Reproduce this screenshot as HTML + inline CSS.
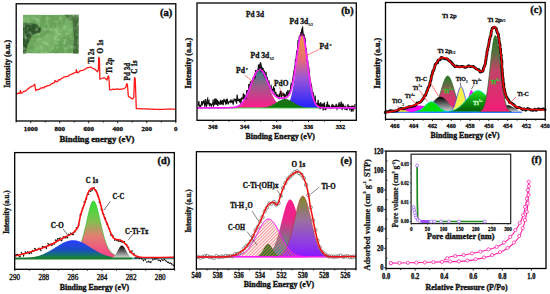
<!DOCTYPE html>
<html><head><meta charset="utf-8"><style>
html,body{margin:0;padding:0;background:#fff;width:550px;height:294px;overflow:hidden}
svg{display:block;font-family:"Liberation Serif",serif}
</style></head><body>
<svg width="550" height="294" viewBox="0 0 550 294">
<defs><filter id="bl1" x="-20%" y="-20%" width="140%" height="140%"><feGaussianBlur stdDeviation="1.2"/></filter><filter id="bl3" x="-20%" y="-20%" width="140%" height="140%"><feGaussianBlur stdDeviation="0.7"/></filter><filter id="bl2" x="-20%" y="-20%" width="140%" height="140%"><feGaussianBlur stdDeviation="2"/></filter><clipPath id="cpa"><rect x="23" y="14.8" width="55.6" height="38.6"/></clipPath><filter id="turb" x="0" y="0" width="100%" height="100%"><feTurbulence type="fractalNoise" baseFrequency="0.22" numOctaves="3" seed="3"/><feColorMatrix type="matrix" values="0 0 0 0 0.55  0 0 0 0 0.85  0 0 0 0 0.5  0 0 0 1.3 -0.62"/></filter><filter id="turb2" x="0" y="0" width="100%" height="100%"><feTurbulence type="fractalNoise" baseFrequency="0.2" numOctaves="3" seed="9"/><feColorMatrix type="matrix" values="0 0 0 0 0.15  0 0 0 0 0.3  0 0 0 0 0.12  0 0 0 1.3 -0.66"/></filter><linearGradient id="gb1" x1="0" y1="0" x2="0" y2="1"><stop offset="0" stop-color="#2f8a86"/><stop offset="0.45" stop-color="#a05a8a"/><stop offset="1" stop-color="#ff1a8c"/></linearGradient><linearGradient id="gb2" x1="0" y1="0" x2="0" y2="1"><stop offset="0" stop-color="#f79a3a"/><stop offset="0.35" stop-color="#e36a7a"/><stop offset="0.6" stop-color="#9a55d8"/><stop offset="1" stop-color="#2222ff"/></linearGradient><linearGradient id="gb3" x1="0" y1="0" x2="0" y2="1"><stop offset="0" stop-color="#1f6f1f"/><stop offset="1" stop-color="#0a7a0a"/></linearGradient><linearGradient id="gc_dg" x1="0" y1="0" x2="0" y2="1"><stop offset="0" stop-color="#2b7a2b"/><stop offset="0.22" stop-color="#5a7040"/><stop offset="0.45" stop-color="#c04468"/><stop offset="1" stop-color="#f41c78"/></linearGradient><linearGradient id="gc_k" x1="0" y1="0" x2="0" y2="1"><stop offset="0" stop-color="#000000"/><stop offset="1" stop-color="#d8d8d8"/></linearGradient><linearGradient id="gc_gc" x1="0" y1="0" x2="0" y2="1"><stop offset="0" stop-color="#00e000"/><stop offset="1" stop-color="#00e8e8"/></linearGradient><linearGradient id="gc_g2" x1="0" y1="0" x2="0" y2="1"><stop offset="0" stop-color="#22f022"/><stop offset="0.45" stop-color="#10a010"/><stop offset="1" stop-color="#005a00"/></linearGradient><linearGradient id="gd_b" x1="0" y1="0" x2="0" y2="1"><stop offset="0" stop-color="#2a3cff"/><stop offset="0.55" stop-color="#1a50c0"/><stop offset="1" stop-color="#128a30"/></linearGradient><linearGradient id="gd_g" x1="0" y1="0" x2="0" y2="1"><stop offset="0" stop-color="#30e030"/><stop offset="0.35" stop-color="#80c050"/><stop offset="0.6" stop-color="#e08070"/><stop offset="1" stop-color="#ff3a8a"/></linearGradient><linearGradient id="gd_k" x1="0" y1="0" x2="0" y2="1"><stop offset="0" stop-color="#000000"/><stop offset="1" stop-color="#e0e0e0"/></linearGradient><linearGradient id="ge_p" x1="0" y1="0" x2="0" y2="1"><stop offset="0" stop-color="#ff1a8c"/><stop offset="0.35" stop-color="#e8288a"/><stop offset="0.7" stop-color="#80708a"/><stop offset="1" stop-color="#1a9a9a"/></linearGradient><linearGradient id="ge_o" x1="0" y1="0" x2="0" y2="1"><stop offset="0" stop-color="#7e8a22"/><stop offset="0.4" stop-color="#9a70a0"/><stop offset="0.75" stop-color="#9040e0"/><stop offset="1" stop-color="#8a18ff"/></linearGradient><pattern id="hatch" patternUnits="userSpaceOnUse" width="2.3" height="2.3" patternTransform="rotate(45)"><rect width="2.3" height="2.3" fill="none"/><line x1="0.6" y1="0" x2="0.6" y2="2.3" stroke="#f07070" stroke-width="0.85"/></pattern></defs>
<rect width="550" height="294" fill="#fff"/>
<g clip-path="url(#cpa)">
<rect x="23" y="14.8" width="55.6" height="38.6" fill="#68a458"/>
<path d="M20,23.5 L28,22.5 L36,24 L41,28 L40.5,32.5 L34,34 L31,37 L27.5,45 L25.5,54 L20,54 Z" fill="#2f552b" filter="url(#bl3)"/>
<path d="M72.5,20 L80,16 L80,54 L73,54 L74,38 Z" fill="#3f6b37" filter="url(#bl3)"/>
<path d="M62,12 L80,12 L80,20 L70,21 Z" fill="#4b7a43" filter="url(#bl3)"/>
<path d="M31,54 L37,41 L68,20 L73,27 L47,54 Z" fill="#86c476" opacity="0.5" filter="url(#bl1)"/>
<path d="M20,12 L38,12 L42,18 L30,22 L20,26 Z" fill="#80bc70" opacity="0.55" filter="url(#bl1)"/>
<rect x="23" y="14.8" width="55.6" height="38.6" filter="url(#turb)"/>
<rect x="23" y="14.8" width="55.6" height="38.6" filter="url(#turb2)"/>
</g>
<path d="M16.4,94.2 L17.53,93.69 L18.67,93.18 L19.8,93.3 L20.4,90.6 L21.1,93 L22.47,92.61 L23.83,91.35 L25.2,91.3 L26.57,90.21 L27.93,88.87 L29.3,87.9 L30.63,86.67 L31.97,86.51 L33.3,85.8 L34.7,84.2 L35.7,90.6 L36.97,89.58 L38.23,89.59 L39.5,89.2 L40.62,88.23 L41.73,87.81 L42.85,87.76 L43.97,87.79 L45.08,86.5 L46.2,86.5 L47.3,85.63 L48.4,85.57 L49.5,85.42 L50.6,84.43 L51.7,83.8 L53.1,83.08 L54.5,82.6 L55.1,80.4 L56.4,81.7 L57.6,81.55 L58.8,79.71 L60,79.96 L61.2,78.8 L62.32,78.09 L63.44,77.45 L64.56,76.96 L65.68,76.73 L66.8,76.5 L68.15,76.2 L69.5,74.77 L70.85,74.57 L72.2,73.8 L73.47,73.5 L74.73,72.71 L76,72.4 L76.3,69.7 L77.4,72.8 L78.54,72.32 L79.68,71.2 L80.82,70.65 L81.96,70.29 L83.1,70.1 L84.3,69.72 L85.5,68.81 L86.7,68.08 L87.9,67.7 L89.25,67.45 L90.6,67 L92.6,68.3 L94.6,69 L96,70.29 L97.4,71.7 L98.4,70 L98.7,57.5 L99.4,58 L99.9,79.2 L102.1,78.5 L103.45,77.96 L104.8,77.9 L105.9,78.95 L107,80 L108.2,76 L108.8,76.5 L109.6,89.5 L110.7,89.8 L111.8,89.64 L112.9,89.04 L114,89.3 L115.33,89.26 L116.67,89.06 L118,88.9 L119.5,89.5 L121,89.2 L122.65,89.03 L124.3,88.3 L125.8,87.5 L126.7,83.6 L127.4,84.5 L128.4,96.5 L129.7,97.1 L131,98.2 L132.8,99 L133.8,97 L134.5,77.6 L135.2,78.5 L136.3,108.6 L137.44,108.64 L138.58,108.68 L139.73,108.72 L140.87,108.77 L142.01,108.81 L143.15,108.85 L144.29,108.89 L145.43,108.93 L146.57,108.97 L147.72,109.02 L148.86,109.06 L150,109.1 L151.11,109.14 L152.22,109.19 L153.33,109.23 L154.44,109.28 L155.56,109.32 L156.67,109.37 L157.78,109.41 L158.89,109.46 L160,109.5 L161.11,109.44 L162.22,109.39 L163.33,109.33 L164.44,109.28 L165.56,109.22 L166.67,109.17 L167.78,109.11 L168.89,109.06 L170,109 L171.16,109.06 L172.32,109.12 L173.48,109.18 L174.64,109.24 L175.8,109.3" stroke="#ff1a1a" stroke-width="1.3" fill="none" stroke-linejoin="round"/>
<rect x="16.2" y="3.8" width="159.6" height="117.2" stroke="#000" stroke-width="1.3" fill="none"/>
<line x1="30.71" y1="121" x2="30.71" y2="123.2" stroke="#111" stroke-width="0.9"/>
<line x1="59.73" y1="121" x2="59.73" y2="123.2" stroke="#111" stroke-width="0.9"/>
<line x1="88.75" y1="121" x2="88.75" y2="123.2" stroke="#111" stroke-width="0.9"/>
<line x1="117.76" y1="121" x2="117.76" y2="123.2" stroke="#111" stroke-width="0.9"/>
<line x1="146.78" y1="121" x2="146.78" y2="123.2" stroke="#111" stroke-width="0.9"/>
<line x1="175.8" y1="121" x2="175.8" y2="123.2" stroke="#111" stroke-width="0.9"/>
<line x1="16.2" y1="121" x2="16.2" y2="122.5" stroke="#111" stroke-width="0.9"/>
<line x1="45.22" y1="121" x2="45.22" y2="122.5" stroke="#111" stroke-width="0.9"/>
<line x1="74.24" y1="121" x2="74.24" y2="122.5" stroke="#111" stroke-width="0.9"/>
<line x1="103.25" y1="121" x2="103.25" y2="122.5" stroke="#111" stroke-width="0.9"/>
<line x1="132.27" y1="121" x2="132.27" y2="122.5" stroke="#111" stroke-width="0.9"/>
<line x1="161.29" y1="121" x2="161.29" y2="122.5" stroke="#111" stroke-width="0.9"/>
<text x="30.71" y="131" font-size="7" font-weight="bold" text-anchor="middle" fill="#111" stroke="#111" stroke-width="0.32" >1000</text>
<text x="59.73" y="131" font-size="7" font-weight="bold" text-anchor="middle" fill="#111" stroke="#111" stroke-width="0.32" >800</text>
<text x="88.75" y="131" font-size="7" font-weight="bold" text-anchor="middle" fill="#111" stroke="#111" stroke-width="0.32" >600</text>
<text x="117.76" y="131" font-size="7" font-weight="bold" text-anchor="middle" fill="#111" stroke="#111" stroke-width="0.32" >400</text>
<text x="146.78" y="131" font-size="7" font-weight="bold" text-anchor="middle" fill="#111" stroke="#111" stroke-width="0.32" >200</text>
<text x="175.8" y="131" font-size="7" font-weight="bold" text-anchor="middle" fill="#111" stroke="#111" stroke-width="0.32" >0</text>
<text x="59.5" y="141.94" font-size="8.71" font-weight="bold" text-anchor="start" fill="#111" stroke="#111" stroke-width="0.4" >Binding energy (eV)</text>
<text transform="translate(10.11,87.8) rotate(-90)" font-size="7.65" font-weight="bold" text-anchor="start" fill="#111" stroke="#111" stroke-width="0.35" >Intensity (a.u.)</text>
<text x="160" y="16.32" font-size="10.55" font-weight="bold" text-anchor="start" fill="#111" stroke="#111" stroke-width="0.48" >(a)</text>
<text transform="translate(93.8,63.6) rotate(-90)" font-size="7.2" font-weight="bold" text-anchor="start" fill="#111" stroke="#111" stroke-width="0.33" >Ti 2s</text>
<text transform="translate(103.27,53.4) rotate(-90)" font-size="7.2" font-weight="bold" text-anchor="start" fill="#111" stroke="#111" stroke-width="0.33" >O 1s</text>
<text transform="translate(111.6,73.8) rotate(-90)" font-size="7.2" font-weight="bold" text-anchor="start" fill="#111" stroke="#111" stroke-width="0.33" >Ti 2p</text>
<text transform="translate(130,80.5) rotate(-90)" font-size="7.2" font-weight="bold" text-anchor="start" fill="#111" stroke="#111" stroke-width="0.33" >Pd 3d</text>
<text transform="translate(137.27,73.8) rotate(-90)" font-size="7.2" font-weight="bold" text-anchor="start" fill="#111" stroke="#111" stroke-width="0.33" >C 1s</text>
<path d="M230,107.8 L230,107.7 L230.5,107.67 L231,107.65 L231.5,107.62 L232,107.58 L232.5,107.53 L233,107.48 L233.5,107.42 L234,107.34 L234.5,107.26 L235,107.16 L235.5,107.04 L236,106.91 L236.5,106.76 L237,106.58 L237.5,106.39 L238,106.16 L238.5,105.91 L239,105.62 L239.5,105.3 L240,104.94 L240.5,104.54 L241,104.1 L241.5,103.61 L242,103.07 L242.5,102.48 L243,101.84 L243.5,101.14 L244,100.39 L244.5,99.58 L245,98.71 L245.5,97.79 L246,96.8 L246.5,95.76 L247,94.67 L247.5,93.53 L248,92.34 L248.5,91.11 L249,89.83 L249.5,88.53 L250,87.21 L250.5,85.86 L251,84.51 L251.5,83.16 L252,81.81 L252.5,80.49 L253,79.2 L253.5,77.94 L254,76.74 L254.5,75.59 L255,74.52 L255.5,73.53 L256,72.62 L256.5,71.82 L257,71.12 L257.5,70.53 L258,70.06 L258.5,69.71 L259,69.49 L259.5,69.4 L260,69.44 L260.5,69.61 L261,69.91 L261.5,70.33 L262,70.87 L262.5,71.52 L263,72.29 L263.5,73.15 L264,74.11 L264.5,75.15 L265,76.27 L265.5,77.45 L266,78.69 L266.5,79.97 L267,81.28 L267.5,82.62 L268,83.97 L268.5,85.32 L269,86.67 L269.5,88 L270,89.32 L270.5,90.6 L271,91.85 L271.5,93.06 L272,94.22 L272.5,95.33 L273,96.39 L273.5,97.4 L274,98.35 L274.5,99.24 L275,100.07 L275.5,100.85 L276,101.57 L276.5,102.23 L277,102.84 L277.5,103.4 L278,103.91 L278.5,104.37 L279,104.78 L279.5,105.16 L280,105.5 L280.5,105.8 L281,106.06 L281.5,106.3 L282,106.51 L282.5,106.69 L283,106.85 L283.5,106.99 L284,107.11 L284.5,107.22 L285,107.31 L285.5,107.39 L286,107.45 L286.5,107.51 L287,107.56 L287.5,107.6 L288,107.64 L288.5,107.66 L289,107.69 L289.5,107.71 L290,107.73 L290,107.8 Z" stroke="none" stroke-width="1" fill="url(#gb1)" />
<path d="M284,107.8 L284,107.38 L284.5,107.24 L285,107.07 L285.5,106.85 L286,106.56 L286.5,106.21 L287,105.77 L287.5,105.23 L288,104.58 L288.5,103.79 L289,102.85 L289.5,101.73 L290,100.42 L290.5,98.9 L291,97.15 L291.5,95.16 L292,92.92 L292.5,90.41 L293,87.65 L293.5,84.64 L294,81.38 L294.5,77.9 L295,74.24 L295.5,70.43 L296,66.51 L296.5,62.55 L297,58.6 L297.5,54.73 L298,51 L298.5,47.51 L299,44.3 L299.5,41.45 L300,39.03 L300.5,37.08 L301,35.66 L301.5,34.79 L302,34.5 L302.5,34.79 L303,35.66 L303.5,37.08 L304,39.03 L304.5,41.45 L305,44.3 L305.5,47.51 L306,51 L306.5,54.73 L307,58.6 L307.5,62.55 L308,66.51 L308.5,70.43 L309,74.24 L309.5,77.9 L310,81.38 L310.5,84.64 L311,87.65 L311.5,90.41 L312,92.92 L312.5,95.16 L313,97.15 L313.5,98.9 L314,100.42 L314.5,101.73 L315,102.85 L315.5,103.79 L316,104.58 L316.5,105.23 L317,105.77 L317.5,106.21 L318,106.56 L318.5,106.85 L319,107.07 L319.5,107.24 L320,107.38 L320.5,107.49 L321,107.57 L321.5,107.63 L322,107.68 L322,107.8 Z" stroke="none" stroke-width="1" fill="url(#gb2)" />
<path d="M256,107.8 L256,107.77 L256.5,107.77 L257,107.76 L257.5,107.75 L258,107.74 L258.5,107.73 L259,107.72 L259.5,107.7 L260,107.68 L260.5,107.66 L261,107.64 L261.5,107.61 L262,107.57 L262.5,107.54 L263,107.49 L263.5,107.44 L264,107.38 L264.5,107.32 L265,107.25 L265.5,107.17 L266,107.08 L266.5,106.98 L267,106.87 L267.5,106.74 L268,106.61 L268.5,106.46 L269,106.3 L269.5,106.13 L270,105.95 L270.5,105.75 L271,105.53 L271.5,105.31 L272,105.07 L272.5,104.82 L273,104.55 L273.5,104.28 L274,103.99 L274.5,103.7 L275,103.4 L275.5,103.09 L276,102.78 L276.5,102.46 L277,102.15 L277.5,101.84 L278,101.53 L278.5,101.23 L279,100.94 L279.5,100.66 L280,100.4 L280.5,100.15 L281,99.92 L281.5,99.72 L282,99.53 L282.5,99.37 L283,99.24 L283.5,99.14 L284,99.06 L284.5,99.02 L285,99 L285.5,99.02 L286,99.06 L286.5,99.14 L287,99.24 L287.5,99.37 L288,99.53 L288.5,99.72 L289,99.92 L289.5,100.15 L290,100.4 L290.5,100.66 L291,100.94 L291.5,101.23 L292,101.53 L292.5,101.84 L293,102.15 L293.5,102.46 L294,102.78 L294.5,103.09 L295,103.4 L295.5,103.7 L296,103.99 L296.5,104.28 L297,104.55 L297.5,104.82 L298,105.07 L298.5,105.31 L299,105.53 L299.5,105.75 L300,105.95 L300.5,106.13 L301,106.3 L301.5,106.46 L302,106.61 L302.5,106.74 L303,106.87 L303.5,106.98 L304,107.08 L304.5,107.17 L305,107.25 L305.5,107.32 L306,107.38 L306.5,107.44 L307,107.49 L307.5,107.54 L308,107.57 L308.5,107.61 L309,107.64 L309.5,107.66 L310,107.68 L310.5,107.7 L311,107.72 L311.5,107.73 L312,107.74 L312.5,107.75 L313,107.76 L313.5,107.77 L314,107.77 L314,107.8 Z" stroke="none" stroke-width="1" fill="url(#gb3)" />
<line x1="198" y1="108" x2="355.3" y2="108" stroke="#20c020" stroke-width="0.8"/>
<path d="M198,105.5 L198.42,104.23 L198.84,101.1 L199.26,106.11 L199.68,105.72 L200.1,106.28 L200.52,107.33 L200.94,104.92 L201.36,104.35 L201.78,101.18 L202.2,105.36 L202.62,102.62 L203.04,102.93 L203.46,101.1 L203.88,101.71 L204.3,102.63 L204.72,106.6 L205.14,99.25 L205.56,100.47 L205.98,104.17 L206.4,106.78 L206.82,104.83 L207.24,99.34 L207.66,98.48 L208.08,104.23 L208.5,101.78 L208.92,100.9 L209.34,105.47 L209.76,105.7 L210.18,103.59 L210.6,103.74 L211.02,104.11 L211.44,106.63 L211.86,104.44 L212.28,104.18 L212.7,104.2 L213.12,99.51 L213.54,105.74 L213.96,104.98 L214.38,104 L214.8,98.45 L215.22,101.36 L215.64,104.57 L216.06,98.69 L216.48,102.23 L216.9,104.84 L217.32,99.67 L217.74,106.06 L218.16,103.69 L218.58,102.11 L219,103.11 L219.42,103.78 L219.84,102.58 L220.26,104.79 L220.68,100.76 L221.1,101.25 L221.52,104.4 L221.94,102.11 L222.36,100.06 L222.78,104.03 L223.2,105.12 L223.62,100.86 L224.04,98.75 L224.46,101.44 L224.88,101.35 L225.3,100.97 L225.72,104.66 L226.14,99.25 L226.56,104.23 L226.98,98.61 L227.4,99.61 L227.82,102.67 L228.24,103.7 L228.66,103.05 L229.08,101.85 L229.5,101.34 L229.92,101.3 L230.34,102.16 L230.76,100.43 L231.18,101.35 L231.6,101.92 L232.02,100.57 L232.44,102.16 L232.86,101.63 L233.28,104.71 L233.7,100.89 L234.12,99.12 L234.54,99.11 L234.96,99.77 L235.38,101.68 L235.8,98.75 L236.22,100.33 L236.64,103.64 L237.06,94.7 L237.48,97.31 L237.9,100.39 L238.32,100.77 L238.74,100.44 L239.16,98.97 L239.58,101.33 L240,100.46 L240.42,98.61 L240.84,104.65 L241.26,100.29 L241.68,98.11 L242.1,98.9 L242.52,98.37 L242.94,98.45 L243.36,93.26 L243.78,96.82 L244.2,99.71 L244.62,94.48 L245.04,96.42 L245.46,98.14 L245.88,97.36 L246.3,97.99 L246.72,90.1 L247.14,92.16 L247.56,91.25 L247.98,92.4 L248.4,92.42 L248.82,83.99 L249.24,90.33 L249.66,83.68 L250.08,87.28 L250.5,81.39 L250.92,83.95 L251.34,85.09 L251.76,81.03 L252.18,80.68 L252.6,80.94 L253.02,78.44 L253.44,76.91 L253.86,79.48 L254.28,77.46 L254.7,73.6 L255.12,78.39 L255.54,70.07 L255.96,73.87 L256.38,70.54 L256.8,70.74 L257.22,71.41 L257.64,69.83 L258.06,70.31 L258.48,65.2 L258.9,64.98 L259.32,69.48 L259.74,65.93 L260.16,65.8 L260.58,64.92 L261,71.13 L261.42,70.25 L261.84,72.21 L262.26,67.33 L262.68,69.91 L263.1,67.97 L263.52,72.81 L263.94,75.33 L264.36,70.63 L264.78,76.83 L265.2,76.42 L265.62,74.74 L266.04,71.72 L266.46,80.1 L266.88,77.76 L267.3,77.62 L267.72,80.8 L268.14,81.8 L268.56,85.17 L268.98,80.58 L269.4,86.27 L269.82,87.95 L270.24,88.76 L270.66,86.02 L271.08,85.6 L271.5,90.26 L271.92,89.01 L272.34,89.72 L272.76,93.23 L273.18,90.12 L273.6,86.25 L274.02,90.91 L274.44,88.14 L274.86,94.44 L275.28,93.71 L275.7,91.99 L276.12,93.61 L276.54,95.77 L276.96,94.37 L277.38,97.34 L277.8,94.48 L278.22,97.06 L278.64,98.19 L279.06,98.56 L279.48,93.63 L279.9,97.11 L280.32,91.1 L280.74,92.88 L281.16,90.97 L281.58,97.65 L282,92.59 L282.42,95.27 L282.84,94.86 L283.26,95.2 L283.68,93.93 L284.1,95.71 L284.52,99.08 L284.94,95.17 L285.36,96.15 L285.78,97.07 L286.2,94.28 L286.62,91.76 L287.04,93.07 L287.46,96.36 L287.88,90.02 L288.3,91.88 L288.72,94.89 L289.14,93.79 L289.56,91.31 L289.98,92.2 L290.4,89.78 L290.82,85.66 L291.24,83.5 L291.66,84.04 L292.08,85.81 L292.5,80.67 L292.92,77.88 L293.34,75.94 L293.76,71.86 L294.18,72.41 L294.6,67.36 L295.02,67.91 L295.44,59.15 L295.86,61.83 L296.28,56.61 L296.7,50.64 L297.12,53.42 L297.54,48.2 L297.96,40.97 L298.38,41.17 L298.8,41.14 L299.22,37.12 L299.64,37.73 L300.06,35.86 L300.48,34.2 L300.9,32.34 L301.32,33.82 L301.74,31.99 L302.16,31.59 L302.58,26.48 L303,33.89 L303.42,36.04 L303.84,34.12 L304.26,35.68 L304.68,43.24 L305.1,37.64 L305.52,45.32 L305.94,52.26 L306.36,48.35 L306.78,55.16 L307.2,61.11 L307.62,60.05 L308.04,64.89 L308.46,68.95 L308.88,68.21 L309.3,73.14 L309.72,76.98 L310.14,81.03 L310.56,81.87 L310.98,84.09 L311.4,84.66 L311.82,88.31 L312.24,93.08 L312.66,93.17 L313.08,92.73 L313.5,94.24 L313.92,102.41 L314.34,101.09 L314.76,101.01 L315.18,95.51 L315.6,102.66 L316.02,103.03 L316.44,106.26 L316.86,103.99 L317.28,103.33 L317.7,104.99 L318.12,99.87 L318.54,106.69 L318.96,105.37 L319.38,103.31 L319.8,107.94 L320.22,109.15 L320.64,102.21 L321.06,103.94 L321.48,106.14 L321.9,105.99 L322.32,104.79 L322.74,103.59 L323.16,110.47 L323.58,108.14 L324,103.29 L324.42,103.01 L324.84,109.77 L325.26,108.25 L325.68,110.13 L326.1,107.95 L326.52,104.3 L326.94,106.84 L327.36,101.56 L327.78,104.71 L328.2,106.27 L328.62,107.6 L329.04,104.89 L329.46,106.27 L329.88,107.6 L330.3,107.43 L330.72,108 L331.14,107.06 L331.56,105.89 L331.98,108.34 L332.4,106.71 L332.82,104.78 L333.24,105.22 L333.66,106.6 L334.08,106.36 L334.5,106.95 L334.92,106.6 L335.34,106.99 L335.76,106.3 L336.18,103.83 L336.6,107.53 L337.02,108.92 L337.44,107.56 L337.86,106.18 L338.28,107.58 L338.7,104.48 L339.12,102.43 L339.54,106.73 L339.96,104.55 L340.38,108.23 L340.8,104.22 L341.22,101.6 L341.64,104.31 L342.06,110.07 L342.48,105.76 L342.9,103.59 L343.32,104.92 L343.74,107.75 L344.16,107.69 L344.58,106.99 L345,109.86 L345.42,108.15 L345.84,106.55 L346.26,107.91 L346.68,110.24 L347.1,108.74 L347.52,108.85 L347.94,104.22 L348.36,106.27 L348.78,108.21 L349.2,105.95 L349.62,108.95 L350.04,107.91 L350.46,108.6 L350.88,106.13 L351.3,111.6 L351.72,109.33 L352.14,106.13 L352.56,106.8 L352.98,111.6 L353.4,105.84 L353.82,108.52 L354.24,108.76 L354.66,106.61 L355.08,104.03" stroke="#111" stroke-width="1.15" fill="none" />
<path d="M197,107.8 L197.5,107.8 L198,107.8 L198.5,107.8 L199,107.8 L199.5,107.8 L200,107.8 L200.5,107.8 L201,107.8 L201.5,107.8 L202,107.8 L202.5,107.8 L203,107.8 L203.5,107.8 L204,107.8 L204.5,107.8 L205,107.8 L205.5,107.8 L206,107.8 L206.5,107.8 L207,107.8 L207.5,107.8 L208,107.8 L208.5,107.8 L209,107.8 L209.5,107.8 L210,107.8 L210.5,107.8 L211,107.8 L211.5,107.8 L212,107.8 L212.5,107.8 L213,107.8 L213.5,107.8 L214,107.8 L214.5,107.8 L215,107.8 L215.5,107.8 L216,107.8 L216.5,107.8 L217,107.8 L217.5,107.8 L218,107.8 L218.5,107.8 L219,107.8 L219.5,107.8 L220,107.8 L220.5,107.8 L221,107.8 L221.5,107.8 L222,107.8 L222.5,107.8 L223,107.8 L223.5,107.79 L224,107.79 L224.5,107.79 L225,107.79 L225.5,107.79 L226,107.78 L226.5,107.78 L227,107.77 L227.5,107.76 L228,107.76 L228.5,107.74 L229,107.73 L229.5,107.72 L230,107.7 L230.5,107.67 L231,107.65 L231.5,107.62 L232,107.58 L232.5,107.53 L233,107.48 L233.5,107.42 L234,107.34 L234.5,107.26 L235,107.16 L235.5,107.04 L236,106.91 L236.5,106.76 L237,106.58 L237.5,106.39 L238,106.16 L238.5,105.91 L239,105.62 L239.5,105.3 L240,104.94 L240.5,104.54 L241,104.1 L241.5,103.61 L242,103.07 L242.5,102.48 L243,101.84 L243.5,101.14 L244,100.39 L244.5,99.58 L245,98.71 L245.5,97.79 L246,96.8 L246.5,95.76 L247,94.67 L247.5,93.53 L248,92.34 L248.5,91.1 L249,89.83 L249.5,88.53 L250,87.2 L250.5,85.86 L251,84.51 L251.5,83.15 L252,81.81 L252.5,80.48 L253,79.19 L253.5,77.93 L254,76.72 L254.5,75.58 L255,74.5 L255.5,73.5 L256,72.6 L256.5,71.78 L257,71.08 L257.5,70.48 L258,70 L258.5,69.64 L259,69.41 L259.5,69.3 L260,69.33 L260.5,69.47 L261,69.74 L261.5,70.13 L262,70.64 L262.5,71.26 L263,71.98 L263.5,72.79 L264,73.69 L264.5,74.67 L265,75.72 L265.5,76.82 L266,77.96 L266.5,79.14 L267,80.35 L267.5,81.56 L268,82.78 L268.5,83.98 L269,85.17 L269.5,86.34 L270,87.46 L270.5,88.55 L271,89.58 L271.5,90.56 L272,91.49 L272.5,92.35 L273,93.15 L273.5,93.88 L274,94.54 L274.5,95.14 L275,95.67 L275.5,96.14 L276,96.54 L276.5,96.89 L277,97.19 L277.5,97.43 L278,97.63 L278.5,97.79 L279,97.91 L279.5,98 L280,98.06 L280.5,98.1 L281,98.12 L281.5,98.12 L282,98.12 L282.5,98.09 L283,98.06 L283.5,98.02 L284,97.96 L284.5,97.88 L285,97.78 L285.5,97.65 L286,97.48 L286.5,97.26 L287,96.97 L287.5,96.61 L288,96.15 L288.5,95.57 L289,94.86 L289.5,93.99 L290,92.94 L290.5,91.7 L291,90.24 L291.5,88.55 L292,86.62 L292.5,84.43 L293,81.98 L293.5,79.28 L294,76.34 L294.5,73.18 L295,69.83 L295.5,66.32 L296,62.7 L296.5,59.02 L297,55.34 L297.5,51.74 L298,48.27 L298.5,45.01 L299,42.03 L299.5,39.4 L300,37.17 L300.5,35.41 L301,34.16 L301.5,33.45 L302,33.31 L302.5,33.73 L303,34.72 L303.5,36.26 L304,38.31 L304.5,40.82 L305,43.75 L305.5,47.02 L306,50.59 L306.5,54.37 L307,58.29 L307.5,62.28 L308,66.29 L308.5,70.24 L309,74.08 L309.5,77.77 L310,81.26 L310.5,84.54 L311,87.57 L311.5,90.35 L312,92.86 L312.5,95.11 L313,97.11 L313.5,98.87 L314,100.39 L314.5,101.71 L315,102.83 L315.5,103.78 L316,104.57 L316.5,105.22 L317,105.76 L317.5,106.2 L318,106.56 L318.5,106.84 L319,107.07 L319.5,107.24 L320,107.38 L320.5,107.49 L321,107.57 L321.5,107.63 L322,107.67 L322.5,107.71 L323,107.73 L323.5,107.75 L324,107.77 L324.5,107.78 L325,107.78 L325.5,107.79 L326,107.79 L326.5,107.79 L327,107.8 L327.5,107.8 L328,107.8 L328.5,107.8 L329,107.8 L329.5,107.8 L330,107.8 L330.5,107.8 L331,107.8 L331.5,107.8 L332,107.8 L332.5,107.8 L333,107.8 L333.5,107.8 L334,107.8 L334.5,107.8 L335,107.8 L335.5,107.8 L336,107.8 L336.5,107.8 L337,107.8 L337.5,107.8 L338,107.8 L338.5,107.8 L339,107.8 L339.5,107.8 L340,107.8 L340.5,107.8 L341,107.8 L341.5,107.8 L342,107.8 L342.5,107.8 L343,107.8 L343.5,107.8 L344,107.8 L344.5,107.8 L345,107.8 L345.5,107.8 L346,107.8 L346.5,107.8 L347,107.8 L347.5,107.8 L348,107.8 L348.5,107.8 L349,107.8 L349.5,107.8 L350,107.8 L350.5,107.8 L351,107.8 L351.5,107.8 L352,107.8 L352.5,107.8 L353,107.8 L353.5,107.8 L354,107.8 L354.5,107.8 L355,107.8 L355.5,107.8 L356,107.8" stroke="#ff22ff" stroke-width="1.7" fill="none" />
<path d="M300.8,36 L302,28.5 L303.3,36" stroke="#111" stroke-width="1.2" fill="none" />
<path d="M258.6,70 L260.5,62.3 L262,70" stroke="#111" stroke-width="1.2" fill="none" />
<rect x="197" y="3" width="159.3" height="117.3" stroke="#000" stroke-width="1.3" fill="none"/>
<line x1="212.93" y1="120.3" x2="212.93" y2="122.1" stroke="#111" stroke-width="0.9"/>
<line x1="244.79" y1="120.3" x2="244.79" y2="122.1" stroke="#111" stroke-width="0.9"/>
<line x1="276.65" y1="120.3" x2="276.65" y2="122.1" stroke="#111" stroke-width="0.9"/>
<line x1="308.51" y1="120.3" x2="308.51" y2="122.1" stroke="#111" stroke-width="0.9"/>
<line x1="340.37" y1="120.3" x2="340.37" y2="122.1" stroke="#111" stroke-width="0.9"/>
<line x1="228.86" y1="120.3" x2="228.86" y2="121.7" stroke="#111" stroke-width="0.9"/>
<line x1="260.72" y1="120.3" x2="260.72" y2="121.7" stroke="#111" stroke-width="0.9"/>
<line x1="292.58" y1="120.3" x2="292.58" y2="121.7" stroke="#111" stroke-width="0.9"/>
<line x1="324.44" y1="120.3" x2="324.44" y2="121.7" stroke="#111" stroke-width="0.9"/>
<text x="212.93" y="129" font-size="6.3" font-weight="bold" text-anchor="middle" fill="#111" stroke="#111" stroke-width="0.29" >348</text>
<text x="244.79" y="129" font-size="6.3" font-weight="bold" text-anchor="middle" fill="#111" stroke="#111" stroke-width="0.29" >344</text>
<text x="276.65" y="129" font-size="6.3" font-weight="bold" text-anchor="middle" fill="#111" stroke="#111" stroke-width="0.29" >340</text>
<text x="308.51" y="129" font-size="6.3" font-weight="bold" text-anchor="middle" fill="#111" stroke="#111" stroke-width="0.29" >336</text>
<text x="340.37" y="129" font-size="6.3" font-weight="bold" text-anchor="middle" fill="#111" stroke="#111" stroke-width="0.29" >332</text>
<text x="245.5" y="138.66" font-size="7.87" font-weight="bold" text-anchor="start" fill="#111" stroke="#111" stroke-width="0.36" >Binding Energy (eV)</text>
<text transform="translate(191.44,88.5) rotate(-90)" font-size="8.13" font-weight="bold" text-anchor="start" fill="#111" stroke="#111" stroke-width="0.37" >Intensity (a.u.)</text>
<text x="341.2" y="14.29" font-size="10.07" font-weight="bold" text-anchor="start" fill="#111" stroke="#111" stroke-width="0.46" >(b)</text>
<text x="246" y="17.35" font-size="7.28" font-weight="bold" text-anchor="start" fill="#111" stroke="#111" stroke-width="0.33" >Pd 3d</text>
<text x="289.5" y="23.97" font-size="7.6" font-weight="bold" text-anchor="start" fill="#111" stroke="#111" stroke-width="0.35" >Pd 3d</text>
<text x="308.6" y="26" font-size="3.3" font-weight="bold" text-anchor="start" fill="#111" stroke="#111" stroke-width="0.15" >5/2</text>
<text x="250.5" y="58.07" font-size="7.6" font-weight="bold" text-anchor="start" fill="#111" stroke="#111" stroke-width="0.35" >Pd 3d</text>
<text x="269.8" y="60" font-size="3.3" font-weight="bold" text-anchor="start" fill="#111" stroke="#111" stroke-width="0.15" >3/2</text>
<text x="236" y="73.47" font-size="7.6" font-weight="bold" text-anchor="start" fill="#111" stroke="#111" stroke-width="0.35" >Pd</text>
<text x="245.8" y="70.3" font-size="4" font-weight="bold" text-anchor="start" fill="#111" stroke="#111" stroke-width="0.18" >o</text>
<text x="319.5" y="49.37" font-size="7.6" font-weight="bold" text-anchor="start" fill="#111" stroke="#111" stroke-width="0.35" >Pd</text>
<text x="329.4" y="46.3" font-size="4" font-weight="bold" text-anchor="start" fill="#111" stroke="#111" stroke-width="0.18" >o</text>
<text x="274.1" y="86.14" font-size="7.4" font-weight="bold" text-anchor="start" fill="#111" stroke="#111" stroke-width="0.34" >PdO</text>
<line x1="244.5" y1="75" x2="254.5" y2="83" stroke="#ff3030" stroke-width="0.6"/>
<line x1="306.4" y1="55.5" x2="319" y2="49.5" stroke="#ff3030" stroke-width="0.6"/>
<line x1="279.5" y1="87.5" x2="283.5" y2="97.5" stroke="#ff3030" stroke-width="0.6"/>
<path d="M383.2,112 L383.2,111.96 L383.7,111.96 L384.2,111.95 L384.7,111.94 L385.2,111.93 L385.7,111.93 L386.2,111.91 L386.7,111.9 L387.2,111.89 L387.7,111.88 L388.2,111.86 L388.7,111.84 L389.2,111.82 L389.7,111.8 L390.2,111.78 L390.7,111.75 L391.2,111.72 L391.7,111.69 L392.2,111.66 L392.7,111.62 L393.2,111.58 L393.7,111.53 L394.2,111.48 L394.7,111.43 L395.2,111.37 L395.7,111.31 L396.2,111.25 L396.7,111.18 L397.2,111.1 L397.7,111.02 L398.2,110.94 L398.7,110.85 L399.2,110.75 L399.7,110.65 L400.2,110.55 L400.7,110.43 L401.2,110.32 L401.7,110.2 L402.2,110.07 L402.7,109.94 L403.2,109.8 L403.7,109.66 L404.2,109.51 L404.7,109.36 L405.2,109.2 L405.7,109.05 L406.2,108.88 L406.7,108.72 L407.2,108.56 L407.7,108.39 L408.2,108.22 L408.7,108.05 L409.2,107.88 L409.7,107.71 L410.2,107.55 L410.7,107.39 L411.2,107.22 L411.7,107.07 L412.2,106.92 L412.7,106.77 L413.2,106.63 L413.7,106.49 L414.2,106.36 L414.7,106.24 L415.2,106.13 L415.7,106.03 L416.2,105.94 L416.7,105.86 L417.2,105.79 L417.7,105.73 L418.2,105.68 L418.7,105.64 L419.2,105.62 L419.7,105.6 L420.2,105.6 L420.7,105.61 L421.2,105.63 L421.7,105.67 L422.2,105.72 L422.7,105.77 L423.2,105.84 L423.7,105.92 L424.2,106.01 L424.7,106.11 L425.2,106.22 L425.7,106.34 L426.2,106.47 L426.7,106.6 L427.2,106.74 L427.7,106.89 L428.2,107.04 L428.7,107.19 L429.2,107.35 L429.7,107.52 L430.2,107.68 L430.7,107.85 L431.2,108.02 L431.7,108.19 L432.2,108.35 L432.7,108.52 L433.2,108.69 L433.7,108.85 L434.2,109.01 L434.7,109.17 L435.2,109.33 L435.7,109.48 L436.2,109.63 L436.7,109.77 L437.2,109.91 L437.7,110.04 L438.2,110.17 L438.7,110.29 L439.2,110.41 L439.7,110.52 L440.2,110.63 L440.7,110.73 L441.2,110.83 L441.7,110.92 L442.2,111.01 L442.7,111.09 L443.2,111.16 L443.7,111.23 L444.2,111.3 L444.7,111.36 L445.2,111.42 L445.7,111.47 L446.2,111.52 L446.7,111.57 L447.2,111.61 L447.7,111.65 L448.2,111.68 L448.7,111.72 L449.2,111.75 L449.7,111.77 L450.2,111.8 L450.7,111.82 L451.2,111.84 L451.7,111.86 L452.2,111.87 L452.7,111.89 L453.2,111.9 L453.7,111.91 L454.2,111.92 L454.7,111.93 L455.2,111.94 L455.7,111.95 L456.2,111.95 L456.7,111.96 L456.8,112 Z" stroke="none" stroke-width="1" fill="#ff00ff" />
<path d="M389.8,112 L389.8,111.98 L390.3,111.97 L390.8,111.95 L391.3,111.92 L391.8,111.89 L392.3,111.84 L392.8,111.78 L393.3,111.69 L393.8,111.58 L394.3,111.44 L394.8,111.27 L395.3,111.07 L395.8,110.84 L396.3,110.58 L396.8,110.3 L397.3,110 L397.8,109.7 L398.3,109.4 L398.8,109.13 L399.3,108.89 L399.8,108.7 L400.3,108.57 L400.8,108.51 L401.3,108.51 L401.8,108.59 L402.3,108.73 L402.8,108.93 L403.3,109.18 L403.8,109.46 L404.3,109.76 L404.8,110.06 L405.3,110.35 L405.8,110.63 L406.3,110.89 L406.8,111.11 L407.3,111.31 L407.8,111.47 L408.3,111.6 L408.8,111.71 L409.3,111.79 L409.8,111.85 L410.3,111.9 L410.8,111.93 L411.3,111.95 L411.8,111.97 L412.2,112 Z" stroke="none" stroke-width="1" fill="#f0e040" />
<path d="M426.9,112 L426.9,111.78 L427.4,111.73 L427.9,111.65 L428.4,111.56 L428.9,111.45 L429.4,111.32 L429.9,111.15 L430.4,110.96 L430.9,110.72 L431.4,110.45 L431.9,110.12 L432.4,109.74 L432.9,109.31 L433.4,108.8 L433.9,108.22 L434.4,107.56 L434.9,106.82 L435.4,105.99 L435.9,105.07 L436.4,104.06 L436.9,102.95 L437.4,101.74 L437.9,100.45 L438.4,99.06 L438.9,97.6 L439.4,96.07 L439.9,94.48 L440.4,92.84 L440.9,91.17 L441.4,89.49 L441.9,87.82 L442.4,86.18 L442.9,84.59 L443.4,83.08 L443.9,81.66 L444.4,80.35 L444.9,79.19 L445.4,78.18 L445.9,77.35 L446.4,76.71 L446.9,76.27 L447.4,76.04 L447.9,76.02 L448.4,76.21 L448.9,76.61 L449.4,77.21 L449.9,78 L450.4,78.98 L450.9,80.11 L451.4,81.38 L451.9,82.78 L452.4,84.28 L452.9,85.86 L453.4,87.49 L453.9,89.16 L454.4,90.84 L454.9,92.51 L455.4,94.15 L455.9,95.76 L456.4,97.3 L456.9,98.78 L457.4,100.18 L457.9,101.49 L458.4,102.71 L458.9,103.84 L459.4,104.88 L459.9,105.82 L460.4,106.66 L460.9,107.42 L461.4,108.09 L461.9,108.69 L462.4,109.21 L462.9,109.66 L463.4,110.05 L463.9,110.39 L464.4,110.67 L464.9,110.91 L465.4,111.12 L465.9,111.29 L466.4,111.43 L466.9,111.54 L467.4,111.64 L467.9,111.71 L468.4,111.77 L468.5,112 Z" stroke="#1a6a1a" stroke-width="0.7" fill="url(#gc_dg)" />
<path d="M414.8,112 L414.8,111.91 L415.3,111.89 L415.8,111.86 L416.3,111.84 L416.8,111.8 L417.3,111.76 L417.8,111.72 L418.3,111.66 L418.8,111.6 L419.3,111.53 L419.8,111.44 L420.3,111.35 L420.8,111.24 L421.3,111.12 L421.8,110.97 L422.3,110.82 L422.8,110.64 L423.3,110.44 L423.8,110.22 L424.3,109.98 L424.8,109.71 L425.3,109.42 L425.8,109.11 L426.3,108.76 L426.8,108.39 L427.3,108 L427.8,107.57 L428.3,107.13 L428.8,106.65 L429.3,106.16 L429.8,105.64 L430.3,105.1 L430.8,104.55 L431.3,103.99 L431.8,103.41 L432.3,102.84 L432.8,102.26 L433.3,101.68 L433.8,101.11 L434.3,100.56 L434.8,100.02 L435.3,99.51 L435.8,99.03 L436.3,98.58 L436.8,98.17 L437.3,97.81 L437.8,97.49 L438.3,97.22 L438.8,97 L439.3,96.84 L439.8,96.74 L440.3,96.7 L440.8,96.72 L441.3,96.8 L441.8,96.93 L442.3,97.13 L442.8,97.37 L443.3,97.67 L443.8,98.02 L444.3,98.41 L444.8,98.85 L445.3,99.32 L445.8,99.82 L446.3,100.34 L446.8,100.89 L447.3,101.45 L447.8,102.03 L448.3,102.6 L448.8,103.18 L449.3,103.76 L449.8,104.33 L450.3,104.89 L450.8,105.43 L451.3,105.95 L451.8,106.46 L452.3,106.94 L452.8,107.4 L453.3,107.83 L453.8,108.24 L454.3,108.62 L454.8,108.97 L455.3,109.3 L455.8,109.6 L456.3,109.88 L456.8,110.13 L457.3,110.36 L457.8,110.56 L458.3,110.75 L458.8,110.91 L459.3,111.06 L459.8,111.19 L460.3,111.31 L460.8,111.41 L461.3,111.5 L461.8,111.57 L462.3,111.64 L462.8,111.7 L463.3,111.75 L463.8,111.79 L464.3,111.82 L464.8,111.85 L465.3,111.88 L465.8,111.9 L466,112 Z" stroke="none" stroke-width="1" fill="url(#gc_k)" />
<path d="M415,112 L415,111.59 L415.5,111.51 L416,111.41 L416.5,111.29 L417,111.15 L417.5,111 L418,110.82 L418.5,110.62 L419,110.39 L419.5,110.14 L420,109.87 L420.5,109.56 L421,109.23 L421.5,108.88 L422,108.49 L422.5,108.09 L423,107.66 L423.5,107.22 L424,106.76 L424.5,106.29 L425,105.81 L425.5,105.34 L426,104.87 L426.5,104.41 L427,103.97 L427.5,103.56 L428,103.18 L428.5,102.83 L429,102.53 L429.5,102.27 L430,102.07 L430.5,101.92 L431,101.83 L431.5,101.8 L432,101.83 L432.5,101.92 L433,102.07 L433.5,102.27 L434,102.53 L434.5,102.83 L435,103.18 L435.5,103.56 L436,103.97 L436.5,104.41 L437,104.87 L437.5,105.34 L438,105.81 L438.5,106.29 L439,106.76 L439.5,107.22 L440,107.66 L440.5,108.09 L441,108.49 L441.5,108.88 L442,109.23 L442.5,109.56 L443,109.87 L443.5,110.14 L444,110.39 L444.5,110.62 L445,110.82 L445.5,111 L446,111.15 L446.5,111.29 L447,111.41 L447.5,111.51 L448,111.59 L448.5,111.67 L449,111.73 L449.5,111.78 L450,111.82 L450.5,111.86 L451,111.89 L451.5,111.91 L452,111.93 L452,112 Z" stroke="#00d8d8" stroke-width="0.8" fill="#00e000" />
<path d="M448.2,112 L448.2,111.85 L448.7,111.78 L449.2,111.68 L449.7,111.53 L450.2,111.34 L450.7,111.08 L451.2,110.75 L451.7,110.31 L452.2,109.76 L452.7,109.07 L453.2,108.24 L453.7,107.23 L454.2,106.06 L454.7,104.71 L455.2,103.19 L455.7,101.52 L456.2,99.73 L456.7,97.86 L457.2,95.95 L457.7,94.07 L458.2,92.28 L458.7,90.64 L459.2,89.23 L459.7,88.1 L460.2,87.3 L460.7,86.87 L461.2,86.83 L461.7,87.18 L462.2,87.91 L462.7,88.98 L463.2,90.34 L463.7,91.93 L464.2,93.7 L464.7,95.57 L465.2,97.48 L465.7,99.36 L466.2,101.18 L466.7,102.87 L467.2,104.42 L467.7,105.8 L468.2,107.01 L468.7,108.05 L469.2,108.92 L469.7,109.63 L470.2,110.21 L470.7,110.67 L471.2,111.02 L471.7,111.3 L472.2,111.5 L472.7,111.65 L473.2,111.76 L473.7,111.84 L473.8,112 Z" stroke="#3030ff" stroke-width="0.7" fill="#f5f050" />
<path d="M461.16,112 L461.16,111.87 L461.66,111.78 L462.16,111.66 L462.66,111.47 L463.16,111.2 L463.66,110.81 L464.16,110.29 L464.66,109.6 L465.16,108.7 L465.66,107.58 L466.16,106.22 L466.66,104.62 L467.16,102.81 L467.66,100.84 L468.16,98.76 L468.66,96.68 L469.16,94.7 L469.66,92.94 L470.16,91.5 L470.66,90.48 L471.16,89.96 L471.66,89.97 L472.16,90.51 L472.66,91.55 L473.16,93 L473.66,94.78 L474.16,96.76 L474.66,98.85 L475.16,100.92 L475.66,102.89 L476.16,104.69 L476.66,106.28 L477.16,107.63 L477.66,108.74 L478.16,109.63 L478.66,110.31 L479.16,110.83 L479.66,111.21 L480.16,111.48 L480.66,111.66 L481.16,111.79 L481.64,112 Z" stroke="none" stroke-width="1" fill="#ff10ff" />
<path d="M442.8,112 L442.8,111.87 L443.3,111.85 L443.8,111.83 L444.3,111.8 L444.8,111.77 L445.3,111.74 L445.8,111.71 L446.3,111.66 L446.8,111.62 L447.3,111.56 L447.8,111.51 L448.3,111.44 L448.8,111.37 L449.3,111.29 L449.8,111.2 L450.3,111.1 L450.8,110.99 L451.3,110.88 L451.8,110.75 L452.3,110.6 L452.8,110.45 L453.3,110.28 L453.8,110.1 L454.3,109.9 L454.8,109.69 L455.3,109.46 L455.8,109.21 L456.3,108.94 L456.8,108.66 L457.3,108.36 L457.8,108.04 L458.3,107.7 L458.8,107.34 L459.3,106.96 L459.8,106.56 L460.3,106.14 L460.8,105.7 L461.3,105.24 L461.8,104.77 L462.3,104.27 L462.8,103.76 L463.3,103.24 L463.8,102.7 L464.3,102.15 L464.8,101.58 L465.3,101.01 L465.8,100.43 L466.3,99.85 L466.8,99.26 L467.3,98.67 L467.8,98.08 L468.3,97.49 L468.8,96.92 L469.3,96.35 L469.8,95.79 L470.3,95.25 L470.8,94.73 L471.3,94.22 L471.8,93.74 L472.3,93.29 L472.8,92.86 L473.3,92.47 L473.8,92.1 L474.3,91.78 L474.8,91.49 L475.3,91.24 L475.8,91.02 L476.3,90.85 L476.8,90.73 L477.3,90.64 L477.8,90.6 L478.3,90.61 L478.8,90.66 L479.3,90.75 L479.8,90.88 L480.3,91.06 L480.8,91.28 L481.3,91.54 L481.8,91.84 L482.3,92.17 L482.8,92.54 L483.3,92.95 L483.8,93.38 L484.3,93.84 L484.8,94.32 L485.3,94.83 L485.8,95.36 L486.3,95.9 L486.8,96.46 L487.3,97.03 L487.8,97.61 L488.3,98.2 L488.8,98.78 L489.3,99.37 L489.8,99.96 L490.3,100.55 L490.8,101.13 L491.3,101.7 L491.8,102.26 L492.3,102.81 L492.8,103.34 L493.3,103.87 L493.8,104.37 L494.3,104.86 L494.8,105.33 L495.3,105.79 L495.8,106.22 L496.3,106.64 L496.8,107.03 L497.3,107.41 L497.8,107.76 L498.3,108.1 L498.8,108.42 L499.3,108.72 L499.8,109 L500.3,109.26 L500.8,109.5 L501.3,109.73 L501.8,109.94 L502.3,110.13 L502.8,110.31 L503.3,110.48 L503.8,110.63 L504.3,110.77 L504.8,110.9 L505.3,111.02 L505.8,111.12 L506.3,111.22 L506.8,111.31 L507.3,111.38 L507.8,111.45 L508.3,111.52 L508.8,111.58 L509.3,111.63 L509.8,111.67 L510.3,111.71 L510.8,111.75 L511.3,111.78 L511.8,111.81 L512.3,111.83 L512.8,111.86 L513.2,112 Z" stroke="#00e0e0" stroke-width="0.8" fill="url(#gc_g2)" />
<path d="M488.8,112 L488.8,111.96 L489.3,111.95 L489.8,111.93 L490.3,111.91 L490.8,111.89 L491.3,111.86 L491.8,111.82 L492.3,111.78 L492.8,111.73 L493.3,111.66 L493.8,111.59 L494.3,111.5 L494.8,111.4 L495.3,111.28 L495.8,111.14 L496.3,110.98 L496.8,110.81 L497.3,110.61 L497.8,110.4 L498.3,110.16 L498.8,109.9 L499.3,109.62 L499.8,109.33 L500.3,109.02 L500.8,108.69 L501.3,108.35 L501.8,108.01 L502.3,107.67 L502.8,107.33 L503.3,107 L503.8,106.68 L504.3,106.38 L504.8,106.1 L505.3,105.85 L505.8,105.64 L506.3,105.47 L506.8,105.33 L507.3,105.25 L507.8,105.2 L508.3,105.21 L508.8,105.26 L509.3,105.36 L509.8,105.5 L510.3,105.68 L510.8,105.9 L511.3,106.15 L511.8,106.44 L512.3,106.74 L512.8,107.06 L513.3,107.4 L513.8,107.74 L514.3,108.08 L514.8,108.42 L515.3,108.76 L515.8,109.08 L516.3,109.39 L516.8,109.68 L517.3,109.95 L517.8,110.21 L518.3,110.44 L518.8,110.65 L519.3,110.85 L519.8,111.02 L520.3,111.17 L520.8,111.3 L521.3,111.42 L521.8,111.52 L522.3,111.6 L522.8,111.68 L523.3,111.74 L523.8,111.79 L524.3,111.83 L524.8,111.87 L525.3,111.89 L525.8,111.92 L526.3,111.94 L526.8,111.95 L527.2,112 Z" stroke="none" stroke-width="1" fill="url(#gc_k)" />
<path d="M479.3,112 L479.3,111.54 L479.8,111.37 L480.3,111.15 L480.8,110.86 L481.3,110.48 L481.8,110 L482.3,109.4 L482.8,108.64 L483.3,107.71 L483.8,106.57 L484.3,105.2 L484.8,103.57 L485.3,101.65 L485.8,99.42 L486.3,96.86 L486.8,93.97 L487.3,90.73 L487.8,87.16 L488.3,83.29 L488.8,79.14 L489.3,74.76 L489.8,70.23 L490.3,65.6 L490.8,60.98 L491.3,56.45 L491.8,52.12 L492.3,48.1 L492.8,44.49 L493.3,41.38 L493.8,38.87 L494.3,37.01 L494.8,35.88 L495.3,35.5 L495.8,35.88 L496.3,37.01 L496.8,38.87 L497.3,41.38 L497.8,44.49 L498.3,48.1 L498.8,52.12 L499.3,56.45 L499.8,60.98 L500.3,65.6 L500.8,70.23 L501.3,74.76 L501.8,79.14 L502.3,83.29 L502.8,87.16 L503.3,90.73 L503.8,93.97 L504.3,96.86 L504.8,99.42 L505.3,101.65 L505.8,103.57 L506.3,105.2 L506.8,106.57 L507.3,107.71 L507.8,108.64 L508.3,109.4 L508.8,110 L509.3,110.48 L509.8,110.86 L510.3,111.15 L510.8,111.37 L511.3,111.54 L511.3,112 Z" stroke="#1a6a1a" stroke-width="0.7" fill="url(#gc_dg)" />
<line x1="385.5" y1="112.3" x2="522" y2="112.3" stroke="#2266ff" stroke-width="1"/>
<path d="M385.32,112.41 L386.8,111.74 L388.45,111.74 L390.03,110.82 L391.78,110.96 L393.55,111.25 L395.49,110.94 L397.31,110.8 L398.95,109.27 L401.15,108.41 L402.83,108.76 L403.99,108.66 L406.06,107.85 L407.52,107.74 L408.72,106.78 L410.5,106.9 L412.35,106.39 L413.88,106.01 L415.61,105.15 L417.09,103.01 L418.78,102.65 L420.16,102.15 L421.84,100.43 L423.23,98.73 L424.49,95.71 L425.48,95.45 L426.1,93.46 L427,91.02 L427.74,89.62 L428.04,87.91 L429.14,86.07 L429.59,85.74 L429.88,82.96 L430.32,81.79 L430.93,79.95 L431.3,77.27 L431.45,75.87 L432.25,74.25 L432.66,72.19 L432.87,71.12 L433.75,70.35 L434.27,68.09 L434.69,66.87 L435.18,64.71 L436.47,63.16 L437.55,62.79 L438.01,60.23 L439.99,59.89 L441.27,57.38 L444.23,58.6 L447.23,58.95 L448.74,60.59 L450.77,61.64 L452.24,63.62 L453.83,65.27 L454.94,66.62 L456.59,66.04 L459.4,66.89 L461.47,66.51 L463.08,66.55 L464.99,67.41 L466.5,67.08 L468.7,65.78 L470.46,66.68 L473.54,66.42 L474.72,67.66 L476.6,69.06 L477.58,69.6 L478.9,69.75 L480.16,72 L482.87,71.18 L483.6,68.03 L484.51,65.94 L484.74,65.52 L485.37,63.46 L485.54,61.84 L486.04,59.39 L486.23,56.69 L486.57,55.71 L486.91,54.36 L486.96,51.59 L487.67,50.03 L487.73,48.72 L487.95,47.73 L488.69,45.17 L488.88,43.46 L489.2,41.84 L489.35,39.64 L489.76,39.2 L490.31,36.18 L490.94,35.79 L491.12,32.65 L491.42,30.96 L491.96,29.36 L492.34,28.07 L494.24,27.2 L496.15,28.34 L496.47,30.14 L496.98,31.41 L497.31,32.9 L498.38,34.23 L498.4,36.92 L498.92,37.96 L498.86,39.8 L499.24,41.94 L499.87,44.44 L500.12,44.74 L499.81,47.69 L500.52,48.97 L500.52,49.83 L500.59,53.21 L501.04,54.8 L501.32,55.41 L500.99,56.96 L501.42,59.62 L501.86,61.4 L501.81,63.2 L501.82,64.54 L501.69,66.67 L501.93,68.64 L502.3,69.26 L502.11,70.89 L502.54,73.41 L502.35,74 L502.71,76.65 L502.82,77.85 L503.13,79.32 L503.13,81.98 L503.71,84.16 L503.85,85.71 L503.64,87.14 L504.54,89.75 L504.6,90.3 L505.18,93.25 L505.59,94.28 L506.2,97.27 L506.76,97.04 L507.65,99.11 L508.68,100.08 L509.58,102.43 L510.87,102.57 L512.62,103.86 L513.99,104.82 L515.47,106.67 L517.34,107.91 L519.3,107.44 L520.81,108.18 L522.75,109.46 L524.11,108.78 L525.83,110.15 L527.51,108.54 L529.19,109.2 L531.42,110.13 L533.05,110.38 L534.9,109.22 L536.17,110.36 L538.24,108.78 L539.92,109.45 L541.47,109.41 L543.07,108.86 L545,109.8" stroke="#111" stroke-width="2.9" fill="none" stroke-linejoin="round" stroke-linecap="round"/>
<path d="M385.5,112.4 C386.83,112.2 390.63,111.85 393.5,111.2 C396.37,110.55 399.87,109.32 402.7,108.5 C405.53,107.68 408.37,106.92 410.5,106.3 C412.63,105.68 414.08,105.37 415.5,104.8 C416.92,104.23 417.95,103.67 419,102.9 C420.05,102.13 420.88,101.25 421.8,100.2 C422.72,99.15 423.65,98 424.5,96.6 C425.35,95.2 426.15,93.47 426.9,91.8 C427.65,90.13 428.13,89.47 429,86.6 C429.87,83.73 431.07,78.13 432.1,74.6 C433.13,71.07 434.17,67.78 435.2,65.4 C436.23,63.02 437.28,61.57 438.3,60.3 C439.32,59.03 440.28,58.22 441.3,57.8 C442.32,57.38 443.38,57.63 444.4,57.8 C445.42,57.97 446.38,58.05 447.4,58.8 C448.42,59.55 449.47,61.28 450.5,62.3 C451.53,63.32 452.58,64.13 453.6,64.9 C454.62,65.67 455.58,66.57 456.6,66.9 C457.62,67.23 458.28,66.92 459.7,66.9 C461.12,66.88 463.35,66.9 465.1,66.8 C466.85,66.7 468.83,66.3 470.2,66.3 C471.57,66.3 472.28,66.37 473.3,66.8 C474.32,67.23 475.12,68.13 476.3,68.9 C477.48,69.67 479.28,71.15 480.4,71.4 C481.52,71.65 482.32,71.22 483,70.4 C483.68,69.58 483.98,68.65 484.5,66.5 C485.02,64.35 485.45,60.98 486.1,57.5 C486.75,54.02 487.63,49.37 488.4,45.6 C489.17,41.83 490.02,37.75 490.7,34.9 C491.38,32.05 491.92,29.9 492.5,28.5 C493.08,27.1 493.62,26.5 494.2,26.5 C494.78,26.5 495.35,27.1 496,28.5 C496.65,29.9 497.45,32.05 498.1,34.9 C498.75,37.75 499.32,41.25 499.9,45.6 C500.48,49.95 501.13,55.85 501.6,61 C502.07,66.15 502.33,72.07 502.7,76.5 C503.07,80.93 503.23,84.27 503.8,87.6 C504.37,90.93 505.17,94.1 506.1,96.5 C507.03,98.9 508.12,100.53 509.4,102 C510.68,103.47 512.15,104.3 513.8,105.3 C515.45,106.3 517.27,107.33 519.3,108 C521.33,108.67 521.72,109 526,109.3 C530.28,109.6 541.83,109.72 545,109.8" stroke="#ee0000" stroke-width="1.6" fill="none" stroke-linecap="round"/>
<rect x="385.5" y="2.5" width="159.7" height="116.8" stroke="#000" stroke-width="1.3" fill="none"/>
<line x1="394.89" y1="119.3" x2="394.89" y2="121.1" stroke="#111" stroke-width="0.9"/>
<line x1="413.68" y1="119.3" x2="413.68" y2="121.1" stroke="#111" stroke-width="0.9"/>
<line x1="432.47" y1="119.3" x2="432.47" y2="121.1" stroke="#111" stroke-width="0.9"/>
<line x1="451.26" y1="119.3" x2="451.26" y2="121.1" stroke="#111" stroke-width="0.9"/>
<line x1="470.05" y1="119.3" x2="470.05" y2="121.1" stroke="#111" stroke-width="0.9"/>
<line x1="488.84" y1="119.3" x2="488.84" y2="121.1" stroke="#111" stroke-width="0.9"/>
<line x1="507.62" y1="119.3" x2="507.62" y2="121.1" stroke="#111" stroke-width="0.9"/>
<line x1="526.41" y1="119.3" x2="526.41" y2="121.1" stroke="#111" stroke-width="0.9"/>
<line x1="545.2" y1="119.3" x2="545.2" y2="121.1" stroke="#111" stroke-width="0.9"/>
<line x1="385.5" y1="119.3" x2="385.5" y2="120.6" stroke="#111" stroke-width="0.9"/>
<line x1="404.29" y1="119.3" x2="404.29" y2="120.6" stroke="#111" stroke-width="0.9"/>
<line x1="423.08" y1="119.3" x2="423.08" y2="120.6" stroke="#111" stroke-width="0.9"/>
<line x1="441.86" y1="119.3" x2="441.86" y2="120.6" stroke="#111" stroke-width="0.9"/>
<line x1="460.65" y1="119.3" x2="460.65" y2="120.6" stroke="#111" stroke-width="0.9"/>
<line x1="479.44" y1="119.3" x2="479.44" y2="120.6" stroke="#111" stroke-width="0.9"/>
<line x1="498.23" y1="119.3" x2="498.23" y2="120.6" stroke="#111" stroke-width="0.9"/>
<line x1="517.02" y1="119.3" x2="517.02" y2="120.6" stroke="#111" stroke-width="0.9"/>
<line x1="535.81" y1="119.3" x2="535.81" y2="120.6" stroke="#111" stroke-width="0.9"/>
<text x="394.89" y="128.3" font-size="6.2" font-weight="bold" text-anchor="middle" fill="#111" stroke="#111" stroke-width="0.28" >466</text>
<text x="413.68" y="128.3" font-size="6.2" font-weight="bold" text-anchor="middle" fill="#111" stroke="#111" stroke-width="0.28" >464</text>
<text x="432.47" y="128.3" font-size="6.2" font-weight="bold" text-anchor="middle" fill="#111" stroke="#111" stroke-width="0.28" >462</text>
<text x="451.26" y="128.3" font-size="6.2" font-weight="bold" text-anchor="middle" fill="#111" stroke="#111" stroke-width="0.28" >460</text>
<text x="470.05" y="128.3" font-size="6.2" font-weight="bold" text-anchor="middle" fill="#111" stroke="#111" stroke-width="0.28" >458</text>
<text x="488.84" y="128.3" font-size="6.2" font-weight="bold" text-anchor="middle" fill="#111" stroke="#111" stroke-width="0.28" >456</text>
<text x="507.62" y="128.3" font-size="6.2" font-weight="bold" text-anchor="middle" fill="#111" stroke="#111" stroke-width="0.28" >454</text>
<text x="526.41" y="128.3" font-size="6.2" font-weight="bold" text-anchor="middle" fill="#111" stroke="#111" stroke-width="0.28" >452</text>
<text x="545.2" y="128.3" font-size="6.2" font-weight="bold" text-anchor="middle" fill="#111" stroke="#111" stroke-width="0.28" >450</text>
<text x="430.6" y="137.83" font-size="7.82" font-weight="bold" text-anchor="start" fill="#111" stroke="#111" stroke-width="0.36" >Binding Energy (eV)</text>
<text transform="translate(379.64,88.5) rotate(-90)" font-size="8.13" font-weight="bold" text-anchor="start" fill="#111" stroke="#111" stroke-width="0.37" >Intensity (a.u.)</text>
<text x="530.3" y="12.92" font-size="10.54" font-weight="bold" text-anchor="start" fill="#111" stroke="#111" stroke-width="0.48" >(c)</text>
<text x="442" y="18.38" font-size="6.6" font-weight="bold" text-anchor="start" fill="#111" stroke="#111" stroke-width="0.3" >Ti 2p</text>
<text x="487.4" y="21.74" font-size="6.4" font-weight="bold" text-anchor="start" fill="#111" stroke="#111" stroke-width="0.29" >Ti 2p</text>
<text x="501.1" y="22.4" font-size="3.4" font-weight="bold" text-anchor="start" fill="#111" stroke="#111" stroke-width="0.16" >3/2</text>
<text x="437.5" y="53.14" font-size="6.4" font-weight="bold" text-anchor="start" fill="#111" stroke="#111" stroke-width="0.29" >Ti 2p</text>
<text x="451.1" y="54.3" font-size="3.4" font-weight="bold" text-anchor="start" fill="#111" stroke="#111" stroke-width="0.16" >1/2</text>
<text x="415.3" y="81.39" font-size="5.9" font-weight="bold" text-anchor="start" fill="#111" stroke="#111" stroke-width="0.27" >Ti-C</text>
<text x="412.7" y="89.89" font-size="5.9" font-weight="bold" text-anchor="start" fill="#111" stroke="#111" stroke-width="0.27" >Ti</text>
<text x="418.6" y="87" font-size="3.4" font-weight="bold" text-anchor="start" fill="#111" stroke="#111" stroke-width="0.16" >3+</text>
<text x="405.1" y="98.39" font-size="5.9" font-weight="bold" text-anchor="start" fill="#111" stroke="#111" stroke-width="0.27" >Ti</text>
<text x="411.2" y="95.5" font-size="3.4" font-weight="bold" text-anchor="start" fill="#111" stroke="#111" stroke-width="0.16" >4+</text>
<text x="392" y="103.49" font-size="5.9" font-weight="bold" text-anchor="start" fill="#111" stroke="#111" stroke-width="0.27" >TiO</text>
<text x="402.2" y="105.5" font-size="3.4" font-weight="bold" text-anchor="start" fill="#111" stroke="#111" stroke-width="0.16" >2</text>
<text x="455.8" y="80.89" font-size="5.9" font-weight="bold" text-anchor="start" fill="#111" stroke="#111" stroke-width="0.27" >TiO</text>
<text x="466" y="82.8" font-size="3.4" font-weight="bold" text-anchor="start" fill="#111" stroke="#111" stroke-width="0.16" >2</text>
<text x="472.1" y="83.99" font-size="5.9" font-weight="bold" text-anchor="start" fill="#111" stroke="#111" stroke-width="0.27" >Ti</text>
<text x="478" y="81.3" font-size="3.4" font-weight="bold" text-anchor="start" fill="#111" stroke="#111" stroke-width="0.16" >4+</text>
<text x="517.2" y="96.19" font-size="5.9" font-weight="bold" text-anchor="start" fill="#111" stroke="#111" stroke-width="0.27" >Ti-C</text>
<text x="443.5" y="93.19" font-size="5.9" font-weight="bold" text-anchor="start" fill="#22cc22" stroke="#22cc22" stroke-width="0.27" >Ti</text>
<text x="449.2" y="89.8" font-size="3.4" font-weight="bold" text-anchor="start" fill="#22cc22" stroke="#22cc22" stroke-width="0.16" >3+</text>
<text x="490.5" y="83.99" font-size="5.9" font-weight="bold" text-anchor="start" fill="#22cc22" stroke="#22cc22" stroke-width="0.27" >Ti</text>
<text x="496.2" y="80.6" font-size="3.4" font-weight="bold" text-anchor="start" fill="#22cc22" stroke="#22cc22" stroke-width="0.16" >3+</text>
<text x="473.1" y="105.39" font-size="5.9" font-weight="bold" text-anchor="start" fill="#d0ffd0" stroke="#d0ffd0" stroke-width="0.27" >Ti</text>
<text x="478.8" y="102" font-size="3.4" font-weight="bold" text-anchor="start" fill="#d0ffd0" stroke="#d0ffd0" stroke-width="0.16" >3+</text>
<line x1="430.9" y1="83.5" x2="438.6" y2="96.4" stroke="#ff2020" stroke-width="0.6"/>
<line x1="419.5" y1="90.4" x2="427.5" y2="101.5" stroke="#ff2020" stroke-width="0.6"/>
<line x1="411" y1="98.9" x2="419" y2="106.6" stroke="#ff2020" stroke-width="0.6"/>
<line x1="397" y1="105.7" x2="401" y2="110" stroke="#ff2020" stroke-width="0.6"/>
<line x1="516" y1="97" x2="509.4" y2="103.5" stroke="#ff2020" stroke-width="0.6"/>
<line x1="460.4" y1="82.5" x2="460.8" y2="86.5" stroke="#111" stroke-width="0.6"/>
<line x1="474" y1="85" x2="471.5" y2="89" stroke="#111" stroke-width="0.6"/>
<path d="M68,258.5 L68,256.3 L68.5,256.2 L69,256.08 L69.5,255.96 L70,255.83 L70.5,255.68 L71,255.51 L71.5,255.32 L72,255.11 L72.5,254.88 L73,254.62 L73.5,254.32 L74,253.99 L74.5,253.62 L75,253.2 L75.5,252.74 L76,252.22 L76.5,251.64 L77,251 L77.5,250.29 L78,249.5 L78.5,248.63 L79,247.68 L79.5,246.64 L80,245.5 L80.5,244.27 L81,242.95 L81.5,241.52 L82,239.99 L82.5,238.36 L83,236.64 L83.5,234.82 L84,232.91 L84.5,230.92 L85,228.87 L85.5,226.75 L86,224.58 L86.5,222.38 L87,220.16 L87.5,217.94 L88,215.75 L88.5,213.61 L89,211.55 L89.5,209.58 L90,207.75 L90.5,206.08 L91,204.6 L91.5,203.35 L92,202.34 L92.5,201.6 L93,201.15 L93.5,201 L94,201.15 L94.5,201.6 L95,202.34 L95.5,203.35 L96,204.6 L96.5,206.08 L97,207.75 L97.5,209.58 L98,211.55 L98.5,213.61 L99,215.75 L99.5,217.94 L100,220.16 L100.5,222.38 L101,224.58 L101.5,226.75 L102,228.87 L102.5,230.92 L103,232.91 L103.5,234.82 L104,236.64 L104.5,238.36 L105,239.99 L105.5,241.52 L106,242.95 L106.5,244.27 L107,245.5 L107.5,246.64 L108,247.68 L108.5,248.63 L109,249.5 L109.5,250.29 L110,251 L110.5,251.64 L111,252.22 L111.5,252.74 L112,253.2 L112.5,253.62 L113,253.99 L113.5,254.32 L114,254.62 L114.5,254.88 L115,255.11 L115.5,255.32 L116,255.51 L116.5,255.68 L117,255.83 L117.5,255.96 L118,256.08 L118.5,256.2 L119,256.3 L119.5,256.39 L120,256.48 L120,258.5 Z" stroke="#22bb22" stroke-width="0.6" fill="url(#gd_g)" />
<path d="M14.7,258.5 L14.7,258.43 L15.2,258.42 L15.7,258.41 L16.2,258.41 L16.7,258.4 L17.2,258.39 L17.7,258.38 L18.2,258.36 L18.7,258.35 L19.2,258.34 L19.7,258.32 L20.2,258.31 L20.7,258.29 L21.2,258.27 L21.7,258.25 L22.2,258.23 L22.7,258.21 L23.2,258.18 L23.7,258.15 L24.2,258.13 L24.7,258.09 L25.2,258.06 L25.7,258.03 L26.2,257.99 L26.7,257.95 L27.2,257.9 L27.7,257.86 L28.2,257.81 L28.7,257.76 L29.2,257.7 L29.7,257.64 L30.2,257.58 L30.7,257.51 L31.2,257.44 L31.7,257.37 L32.2,257.29 L32.7,257.21 L33.2,257.12 L33.7,257.03 L34.2,256.93 L34.7,256.83 L35.2,256.72 L35.7,256.61 L36.2,256.49 L36.7,256.37 L37.2,256.24 L37.7,256.11 L38.2,255.97 L38.7,255.82 L39.2,255.67 L39.7,255.51 L40.2,255.34 L40.7,255.17 L41.2,254.99 L41.7,254.8 L42.2,254.61 L42.7,254.41 L43.2,254.21 L43.7,253.99 L44.2,253.78 L44.7,253.55 L45.2,253.32 L45.7,253.08 L46.2,252.84 L46.7,252.58 L47.2,252.33 L47.7,252.06 L48.2,251.8 L48.7,251.52 L49.2,251.24 L49.7,250.96 L50.2,250.67 L50.7,250.37 L51.2,250.08 L51.7,249.78 L52.2,249.47 L52.7,249.16 L53.2,248.85 L53.7,248.54 L54.2,248.22 L54.7,247.91 L55.2,247.59 L55.7,247.27 L56.2,246.96 L56.7,246.64 L57.2,246.33 L57.7,246.01 L58.2,245.7 L58.7,245.39 L59.2,245.09 L59.7,244.79 L60.2,244.5 L60.7,244.21 L61.2,243.92 L61.7,243.64 L62.2,243.37 L62.7,243.11 L63.2,242.86 L63.7,242.61 L64.2,242.37 L64.7,242.15 L65.2,241.93 L65.7,241.72 L66.2,241.53 L66.7,241.35 L67.2,241.18 L67.7,241.02 L68.2,240.88 L68.7,240.74 L69.2,240.63 L69.7,240.52 L70.2,240.43 L70.7,240.36 L71.2,240.3 L71.7,240.25 L72.2,240.22 L72.7,240.2 L73.2,240.2 L73.7,240.21 L74.2,240.24 L74.7,240.29 L75.2,240.34 L75.7,240.42 L76.2,240.5 L76.7,240.6 L77.2,240.72 L77.7,240.85 L78.2,240.99 L78.7,241.15 L79.2,241.31 L79.7,241.49 L80.2,241.69 L80.7,241.89 L81.2,242.1 L81.7,242.33 L82.2,242.56 L82.7,242.81 L83.2,243.06 L83.7,243.32 L84.2,243.59 L84.7,243.87 L85.2,244.15 L85.7,244.44 L86.2,244.73 L86.7,245.03 L87.2,245.33 L87.7,245.64 L88.2,245.95 L88.7,246.26 L89.2,246.58 L89.7,246.89 L90.2,247.21 L90.7,247.53 L91.2,247.84 L91.7,248.16 L92.2,248.48 L92.7,248.79 L93.2,249.1 L93.7,249.41 L94.2,249.71 L94.7,250.02 L95.2,250.32 L95.7,250.61 L96.2,250.9 L96.7,251.19 L97.2,251.47 L97.7,251.74 L98.2,252.01 L98.7,252.28 L99.2,252.53 L99.7,252.79 L100.2,253.03 L100.7,253.27 L101.2,253.5 L101.7,253.73 L102.2,253.95 L102.7,254.16 L103.2,254.37 L103.7,254.57 L104.2,254.77 L104.7,254.95 L105.2,255.13 L105.7,255.31 L106.2,255.47 L106.7,255.63 L107.2,255.79 L107.7,255.94 L108.2,256.08 L108.7,256.22 L109.2,256.35 L109.7,256.47 L110.2,256.59 L110.7,256.7 L111.2,256.81 L111.7,256.91 L112.2,257.01 L112.7,257.1 L113.2,257.19 L113.7,257.28 L114.2,257.35 L114.7,257.43 L115.2,257.5 L115.7,257.57 L116.2,257.63 L116.7,257.69 L117.2,257.75 L117.7,257.8 L118.2,257.85 L118.7,257.9 L119.2,257.94 L119.7,257.98 L120,258.5 Z" stroke="none" stroke-width="1" fill="url(#gd_b)" />
<path d="M110,258.5 L110,258.27 L110.5,258.17 L111,258.05 L111.5,257.89 L112,257.69 L112.5,257.44 L113,257.12 L113.5,256.74 L114,256.28 L114.5,255.75 L115,255.13 L115.5,254.43 L116,253.65 L116.5,252.81 L117,251.92 L117.5,250.99 L118,250.05 L118.5,249.13 L119,248.26 L119.5,247.46 L120,246.76 L120.5,246.2 L121,245.8 L121.5,245.56 L122,245.5 L122.5,245.63 L123,245.94 L123.5,246.41 L124,247.03 L124.5,247.77 L125,248.6 L125.5,249.5 L126,250.43 L126.5,251.36 L127,252.28 L127.5,253.16 L128,253.97 L128.5,254.72 L129,255.39 L129.5,255.97 L130,256.48 L130.5,256.9 L131,257.26 L131.5,257.55 L132,257.78 L132.5,257.96 L133,258.1 L133.5,258.21 L134,258.3 L134.5,258.36 L135,258.4 L135,258.5 Z" stroke="none" stroke-width="1" fill="url(#gd_k)" />
<line x1="14.7" y1="258.5" x2="132" y2="258.5" stroke="#1a7a2a" stroke-width="1.8"/>
<line x1="132" y1="258.5" x2="174.3" y2="258.5" stroke="#3a8a8a" stroke-width="1.5"/>
<path d="M16.54,253.94 L15.46,255.85 M16.88,254.28 L18.92,255.1 M20.77,255.87 L18.83,256.93 M21.04,252.07 L22.36,253.82 M23.83,254.44 L23.37,256.59 M25.07,251.28 L25.93,253.31 M28.15,251.46 L26.65,253.07 M28.41,252.72 L30.19,254.01 M30.42,252.03 L31.98,253.57 M32.31,250.06 L33.89,251.59 M34.03,248.37 L35.97,249.39 M37.93,249.38 L35.87,250.16 M39.07,247.71 L38.53,249.84 M40.13,249.17 L41.27,251.05 M42.25,245.82 L42.95,247.9 M45.6,246.82 L43.4,246.87 M46.43,246.83 L46.37,249.03 M47.48,243.23 L49.12,244.69 M51.11,243.86 L49.29,245.1 M52.61,244.09 L51.59,246.04 M55.1,243.84 L52.9,243.9 M54.86,239.88 L56.94,240.57 M57.71,238.07 L57.89,240.27 M60.63,237.64 L58.77,238.83 M62.56,239.79 L60.64,240.85 M64.56,236.64 L62.44,237.23 M64.31,237.57 L66.49,237.84 M66.64,236.45 L67.96,238.2 M68.18,234.02 L70.22,234.83 M70.19,232.68 L72.01,233.91 M74.1,234.4 L71.9,234.58 M75.18,230.4 L74.62,232.53 M77.87,227.48 L75.73,227.96 M78.27,223.84 L79.13,225.86 M81.6,214.26 L79.6,215.16 M82.32,207.53 L82.68,209.71 M83.65,201.41 L85.15,203.02 M87.14,198.41 L85.46,199.82 M89.28,194.08 L87.12,194.46 M89.06,190.73 L91.14,191.45 M92.33,188.99 L91.67,191.09 M94.3,186.85 L93.5,188.9 M94.95,189.7 L96.65,191.09 M97.26,194.33 L98.14,196.35 M98.61,202.03 L100.59,202.97 M100.62,208.87 L102.38,210.18 M102.63,213.25 L104.17,214.83 M105.64,217.53 L104.96,219.62 M107.7,222.82 L106.7,224.78 M108.22,228.04 L109.98,229.35 M109.9,234.87 L112.1,234.95 M112.33,234.81 L113.47,236.69 M115.38,238.75 L114.22,240.62 M115.78,239.72 L117.62,240.93 M117.99,240.1 L119.21,241.93 M119.62,240.62 L121.38,241.93 M123.28,241.22 L121.52,242.54 M124.47,241.13 L124.13,243.31 M125.12,244.12 L127.28,244.55 M127.06,246.9 L129.14,247.59 M129.64,251.03 L130.36,253.11 M132.07,250.25 L131.73,252.42 M134.27,253.02 L133.33,255.01 M134.64,257.62 L136.76,258.24 M136.64,256.84 L138.56,257.93 M140.13,257.1 L138.87,258.9 M141.09,257.3 L141.71,259.41 M142.61,259.43 L143.99,261.14 M144.57,258.62 L145.83,260.43 M148.19,261.78 L146.01,262.1 M148.39,260.74 L149.61,262.56 M151.13,260.97 L150.67,263.12 M152.32,258.44 L153.28,260.42 M154.41,257.7 L154.99,259.83 M157.6,258.34 L155.6,259.25 M159.6,260.21 L157.4,260.24 M159.94,259.97 L160.86,261.97 M161.4,259.37 L163.2,260.65 M164.92,258.82 L163.48,260.48 M165.22,260.3 L166.98,261.61 M166.9,262.31 L169.1,262.36 M170.95,262.84 L168.85,263.51 M171.54,263.02 L172.06,265.16 M174.63,264.51 L172.77,265.69 " stroke="#111" stroke-width="1.2" fill="none" />
<path d="M14.7,256 C16.42,255.58 21.62,254.42 25,253.5 C28.38,252.58 31.73,251.53 35,250.5 C38.27,249.47 41.77,248.38 44.6,247.3 C47.43,246.22 49.45,245.27 52,244 C54.55,242.73 57.57,240.95 59.9,239.7 C62.23,238.45 63.95,237.52 66,236.5 C68.05,235.48 70.53,234.68 72.2,233.6 C73.87,232.52 74.98,231.28 76,230 C77.02,228.72 77.48,228.57 78.3,225.9 C79.12,223.23 79.88,217.65 80.9,214 C81.92,210.35 83.22,207.5 84.4,204 C85.58,200.5 86.68,195.65 88,193 C89.32,190.35 90.88,188.27 92.3,188.1 C93.72,187.93 95.22,189.68 96.5,192 C97.78,194.32 98.97,198.57 100,202 C101.03,205.43 101.78,209.6 102.7,212.6 C103.62,215.6 104.6,217.73 105.5,220 C106.4,222.27 107.22,224.03 108.1,226.2 C108.98,228.37 109.9,231.03 110.8,233 C111.7,234.97 112.47,236.9 113.5,238 C114.53,239.1 115.88,239.25 117,239.6 C118.12,239.95 119.03,239.62 120.2,240.1 C121.37,240.58 122.85,241.52 124,242.5 C125.15,243.48 126.07,244.52 127.1,246 C128.13,247.48 128.88,249.82 130.2,251.4 C131.52,252.98 133.32,254.53 135,255.5 C136.68,256.47 137.8,256.87 140.3,257.2 C142.8,257.53 144.33,257.48 150,257.5 C155.67,257.52 170.25,257.33 174.3,257.3" stroke="#ff1010" stroke-width="1.6" fill="none" />
<rect x="14.7" y="152.6" width="159.6" height="116.7" stroke="#000" stroke-width="1.3" fill="none"/>
<line x1="14.7" y1="269.3" x2="14.7" y2="271.1" stroke="#111" stroke-width="0.9"/>
<line x1="43.8" y1="269.3" x2="43.8" y2="271.1" stroke="#111" stroke-width="0.9"/>
<line x1="72.9" y1="269.3" x2="72.9" y2="271.1" stroke="#111" stroke-width="0.9"/>
<line x1="102" y1="269.3" x2="102" y2="271.1" stroke="#111" stroke-width="0.9"/>
<line x1="131.1" y1="269.3" x2="131.1" y2="271.1" stroke="#111" stroke-width="0.9"/>
<line x1="160.2" y1="269.3" x2="160.2" y2="271.1" stroke="#111" stroke-width="0.9"/>
<line x1="29.25" y1="269.3" x2="29.25" y2="270.7" stroke="#111" stroke-width="0.9"/>
<line x1="58.35" y1="269.3" x2="58.35" y2="270.7" stroke="#111" stroke-width="0.9"/>
<line x1="87.45" y1="269.3" x2="87.45" y2="270.7" stroke="#111" stroke-width="0.9"/>
<line x1="116.55" y1="269.3" x2="116.55" y2="270.7" stroke="#111" stroke-width="0.9"/>
<line x1="145.65" y1="269.3" x2="145.65" y2="270.7" stroke="#111" stroke-width="0.9"/>
<line x1="174.75" y1="269.3" x2="174.75" y2="270.7" stroke="#111" stroke-width="0.9"/>
<text transform="translate(14.7,279.8) scale(0.92,1)" font-size="7.8" font-weight="normal" text-anchor="middle" fill="#111" stroke="#111" stroke-width="0.36" >290</text>
<text transform="translate(43.8,279.8) scale(0.92,1)" font-size="7.8" font-weight="normal" text-anchor="middle" fill="#111" stroke="#111" stroke-width="0.36" >288</text>
<text transform="translate(72.9,279.8) scale(0.92,1)" font-size="7.8" font-weight="normal" text-anchor="middle" fill="#111" stroke="#111" stroke-width="0.36" >286</text>
<text transform="translate(102,279.8) scale(0.92,1)" font-size="7.8" font-weight="normal" text-anchor="middle" fill="#111" stroke="#111" stroke-width="0.36" >284</text>
<text transform="translate(131.1,279.8) scale(0.92,1)" font-size="7.8" font-weight="normal" text-anchor="middle" fill="#111" stroke="#111" stroke-width="0.36" >282</text>
<text transform="translate(160.2,279.8) scale(0.92,1)" font-size="7.8" font-weight="normal" text-anchor="middle" fill="#111" stroke="#111" stroke-width="0.36" >280</text>
<text x="59.8" y="290.16" font-size="7.87" font-weight="bold" text-anchor="start" fill="#111" stroke="#111" stroke-width="0.36" >Binding Energy (eV)</text>
<text transform="translate(9.3,233.8) rotate(-90) scale(0.9,1)" font-size="7.7" font-weight="bold" fill="#111" stroke="#111" stroke-width="0.3">Intensity (a.u.)</text>
<text x="157.5" y="164.46" font-size="10.31" font-weight="bold" text-anchor="start" fill="#111" stroke="#111" stroke-width="0.47" >(d)</text>
<text transform="translate(85.7,182.79) scale(0.85,1)" font-size="7.84" font-weight="bold" text-anchor="start" fill="#111" stroke="#111" stroke-width="0.36" >C 1s</text>
<text transform="translate(112.6,199.43) scale(0.85,1)" font-size="7.75" font-weight="bold" text-anchor="start" fill="#111" stroke="#111" stroke-width="0.35" >C-C</text>
<text transform="translate(50.7,227.92) scale(0.85,1)" font-size="8.34" font-weight="bold" text-anchor="start" fill="#111" stroke="#111" stroke-width="0.38" >C-O</text>
<text transform="translate(124.9,234.11) scale(0.85,1)" font-size="7.94" font-weight="bold" text-anchor="start" fill="#111" stroke="#111" stroke-width="0.36" >C-Ti-Tx</text>
<line x1="63" y1="228.8" x2="68" y2="235.4" stroke="#111" stroke-width="0.6"/>
<line x1="110.2" y1="201.5" x2="103.8" y2="210.4" stroke="#111" stroke-width="0.6"/>
<line x1="132.6" y1="234.4" x2="128.5" y2="239.8" stroke="#111" stroke-width="0.6"/>
<path d="M262,256.8 L262,256.5 L262.5,256.44 L263,256.37 L263.5,256.28 L264,256.19 L264.5,256.07 L265,255.94 L265.5,255.78 L266,255.6 L266.5,255.4 L267,255.16 L267.5,254.9 L268,254.59 L268.5,254.25 L269,253.86 L269.5,253.42 L270,252.93 L270.5,252.39 L271,251.78 L271.5,251.11 L272,250.38 L272.5,249.57 L273,248.68 L273.5,247.72 L274,246.68 L274.5,245.55 L275,244.35 L275.5,243.05 L276,241.68 L276.5,240.22 L277,238.68 L277.5,237.06 L278,235.36 L278.5,233.6 L279,231.78 L279.5,229.9 L280,227.98 L280.5,226.02 L281,224.04 L281.5,222.05 L282,220.05 L282.5,218.07 L283,216.12 L283.5,214.2 L284,212.35 L284.5,210.57 L285,208.87 L285.5,207.28 L286,205.8 L286.5,204.45 L287,203.25 L287.5,202.19 L288,201.3 L288.5,200.58 L289,200.04 L289.5,199.69 L290,199.52 L290.5,199.53 L291,199.74 L291.5,200.14 L292,200.71 L292.5,201.47 L293,202.39 L293.5,203.48 L294,204.71 L294.5,206.09 L295,207.59 L295.5,209.2 L296,210.92 L296.5,212.72 L297,214.58 L297.5,216.5 L298,218.46 L298.5,220.45 L299,222.45 L299.5,224.44 L300,226.42 L300.5,228.37 L301,230.28 L301.5,232.15 L302,233.96 L302.5,235.71 L303,237.39 L303.5,238.99 L304,240.51 L304.5,241.96 L305,243.32 L305.5,244.59 L306,245.79 L306.5,246.89 L307,247.92 L307.5,248.87 L308,249.73 L308.5,250.53 L309,251.25 L309.5,251.91 L310,252.5 L310.5,253.03 L311,253.51 L311.5,253.94 L312,254.32 L312.5,254.65 L313,254.95 L313.5,255.21 L314,255.44 L314.5,255.64 L315,255.81 L315.5,255.96 L316,256.09 L316.5,256.21 L317,256.3 L317.5,256.38 L318,256.45 L318.5,256.51 L319,256.56 L319.5,256.6 L320,256.64 L320.5,256.67 L321,256.69 L321.5,256.71 L322,256.73 L322,256.8 Z" stroke="none" stroke-width="1" fill="url(#ge_p)" />
<path d="M274,256.8 L274,256.65 L274.5,256.62 L275,256.58 L275.5,256.53 L276,256.47 L276.5,256.4 L277,256.31 L277.5,256.22 L278,256.1 L278.5,255.96 L279,255.8 L279.5,255.62 L280,255.4 L280.5,255.15 L281,254.87 L281.5,254.54 L282,254.17 L282.5,253.75 L283,253.27 L283.5,252.73 L284,252.12 L284.5,251.45 L285,250.7 L285.5,249.87 L286,248.96 L286.5,247.96 L287,246.87 L287.5,245.68 L288,244.4 L288.5,243.02 L289,241.54 L289.5,239.96 L290,238.29 L290.5,236.52 L291,234.67 L291.5,232.73 L292,230.72 L292.5,228.65 L293,226.52 L293.5,224.35 L294,222.14 L294.5,219.92 L295,217.7 L295.5,215.5 L296,213.33 L296.5,211.22 L297,209.17 L297.5,207.21 L298,205.36 L298.5,203.64 L299,202.05 L299.5,200.62 L300,199.36 L300.5,198.29 L301,197.41 L301.5,196.74 L302,196.28 L302.5,196.04 L303,196.02 L303.5,196.22 L304,196.63 L304.5,197.26 L305,198.1 L305.5,199.13 L306,200.35 L306.5,201.75 L307,203.31 L307.5,205.01 L308,206.83 L308.5,208.77 L309,210.8 L309.5,212.91 L310,215.07 L310.5,217.26 L311,219.48 L311.5,221.7 L312,223.91 L312.5,226.09 L313,228.23 L313.5,230.31 L314,232.34 L314.5,234.29 L315,236.16 L315.5,237.94 L316,239.63 L316.5,241.23 L317,242.73 L317.5,244.13 L318,245.43 L318.5,246.64 L319,247.75 L319.5,248.77 L320,249.7 L320.5,250.54 L321,251.31 L321.5,252 L322,252.61 L322.5,253.16 L323,253.65 L323.5,254.09 L324,254.47 L324.5,254.81 L325,255.1 L325.5,255.36 L326,255.58 L326.5,255.77 L327,255.93 L327.5,256.07 L328,256.19 L328.5,256.3 L329,256.38 L329.5,256.46 L330,256.52 L330.5,256.57 L331,256.61 L331.5,256.65 L332,256.68 L332.5,256.7 L333,256.72 L333.5,256.73 L334,256.75 L334,256.8 Z" stroke="#cc2020" stroke-width="0.5" fill="url(#ge_o)" />
<path d="M252,256.8 L252,256.77 L252.5,256.76 L253,256.74 L253.5,256.72 L254,256.68 L254.5,256.64 L255,256.58 L255.5,256.5 L256,256.4 L256.5,256.27 L257,256.1 L257.5,255.9 L258,255.65 L258.5,255.35 L259,254.99 L259.5,254.57 L260,254.08 L260.5,253.53 L261,252.91 L261.5,252.23 L262,251.49 L262.5,250.7 L263,249.88 L263.5,249.04 L264,248.2 L264.5,247.38 L265,246.6 L265.5,245.89 L266,245.27 L266.5,244.75 L267,244.36 L267.5,244.11 L268,244 L268.5,244.05 L269,244.24 L269.5,244.58 L270,245.05 L270.5,245.63 L271,246.31 L271.5,247.06 L272,247.86 L272.5,248.7 L273,249.54 L273.5,250.37 L274,251.18 L274.5,251.94 L275,252.64 L275.5,253.29 L276,253.87 L276.5,254.38 L277,254.83 L277.5,255.21 L278,255.54 L278.5,255.81 L279,256.03 L279.5,256.21 L280,256.35 L280.5,256.46 L281,256.55 L281.5,256.62 L282,256.67 L282.5,256.7 L283,256.73 L283.5,256.75 L284,256.77 L284,256.8 Z" stroke="none" stroke-width="1" fill="#137a13" />
<path d="M232,256.8 L232,256.56 L232.5,256.53 L233,256.49 L233.5,256.44 L234,256.39 L234.5,256.33 L235,256.27 L235.5,256.2 L236,256.12 L236.5,256.03 L237,255.93 L237.5,255.82 L238,255.7 L238.5,255.57 L239,255.42 L239.5,255.26 L240,255.08 L240.5,254.89 L241,254.68 L241.5,254.45 L242,254.2 L242.5,253.92 L243,253.63 L243.5,253.31 L244,252.96 L244.5,252.59 L245,252.2 L245.5,251.77 L246,251.32 L246.5,250.84 L247,250.32 L247.5,249.78 L248,249.2 L248.5,248.59 L249,247.95 L249.5,247.28 L250,246.58 L250.5,245.85 L251,245.08 L251.5,244.29 L252,243.46 L252.5,242.61 L253,241.74 L253.5,240.84 L254,239.92 L254.5,238.97 L255,238.02 L255.5,237.04 L256,236.06 L256.5,235.07 L257,234.07 L257.5,233.08 L258,232.08 L258.5,231.1 L259,230.12 L259.5,229.16 L260,228.22 L260.5,227.3 L261,226.42 L261.5,225.56 L262,224.74 L262.5,223.96 L263,223.23 L263.5,222.54 L264,221.91 L264.5,221.33 L265,220.81 L265.5,220.35 L266,219.95 L266.5,219.63 L267,219.36 L267.5,219.17 L268,219.05 L268.5,219 L269,219.02 L269.5,219.12 L270,219.28 L270.5,219.51 L271,219.81 L271.5,220.18 L272,220.62 L272.5,221.11 L273,221.67 L273.5,222.28 L274,222.95 L274.5,223.66 L275,224.42 L275.5,225.23 L276,226.07 L276.5,226.94 L277,227.85 L277.5,228.78 L278,229.73 L278.5,230.7 L279,231.69 L279.5,232.68 L280,233.67 L280.5,234.67 L281,235.66 L281.5,236.65 L282,237.63 L282.5,238.59 L283,239.54 L283.5,240.47 L284,241.38 L284.5,242.27 L285,243.13 L285.5,243.96 L286,244.77 L286.5,245.54 L287,246.29 L287.5,247.01 L288,247.69 L288.5,248.34 L289,248.96 L289.5,249.55 L290,250.11 L290.5,250.63 L291,251.13 L291.5,251.59 L292,252.03 L292.5,252.44 L293,252.82 L293.5,253.17 L294,253.5 L294.5,253.81 L295,254.09 L295.5,254.35 L296,254.59 L296.5,254.81 L297,255.01 L297.5,255.19 L298,255.36 L298.5,255.51 L299,255.65 L299.5,255.78 L300,255.89 L300.5,255.99 L301,256.09 L301.5,256.17 L302,256.24 L302.5,256.31 L303,256.37 L303.5,256.42 L304,256.47 L304.5,256.51 L305,256.55 L305.5,256.58 L306,256.61 L306,256.8 Z" stroke="#ff10ff" stroke-width="1" fill="url(#hatch)" />
<line x1="196.4" y1="256.8" x2="345" y2="256.8" stroke="#ff10ff" stroke-width="1.3"/>
<circle cx="198" cy="256.81" r="1.7" fill="none" stroke="#777" stroke-width="0.8"/>
<circle cx="200.3" cy="257.77" r="1.7" fill="none" stroke="#777" stroke-width="0.8"/>
<circle cx="202.6" cy="256.92" r="1.7" fill="none" stroke="#777" stroke-width="0.8"/>
<circle cx="204.9" cy="256.33" r="1.7" fill="none" stroke="#777" stroke-width="0.8"/>
<circle cx="207.2" cy="256.03" r="1.7" fill="none" stroke="#777" stroke-width="0.8"/>
<circle cx="209.5" cy="257.1" r="1.7" fill="none" stroke="#777" stroke-width="0.8"/>
<circle cx="211.8" cy="257.28" r="1.7" fill="none" stroke="#777" stroke-width="0.8"/>
<circle cx="214.1" cy="257.82" r="1.7" fill="none" stroke="#777" stroke-width="0.8"/>
<circle cx="216.4" cy="256.13" r="1.7" fill="none" stroke="#777" stroke-width="0.8"/>
<circle cx="218.7" cy="257.13" r="1.7" fill="none" stroke="#777" stroke-width="0.8"/>
<circle cx="221" cy="256.56" r="1.7" fill="none" stroke="#777" stroke-width="0.8"/>
<circle cx="223.3" cy="256.75" r="1.7" fill="none" stroke="#777" stroke-width="0.8"/>
<circle cx="225.6" cy="255.97" r="1.7" fill="none" stroke="#777" stroke-width="0.8"/>
<circle cx="227.9" cy="256.17" r="1.7" fill="none" stroke="#777" stroke-width="0.8"/>
<circle cx="230.2" cy="256.14" r="1.7" fill="none" stroke="#777" stroke-width="0.8"/>
<circle cx="232.5" cy="256.42" r="1.7" fill="none" stroke="#777" stroke-width="0.8"/>
<circle cx="234.8" cy="254.26" r="1.7" fill="none" stroke="#777" stroke-width="0.8"/>
<circle cx="237.1" cy="253.93" r="1.7" fill="none" stroke="#777" stroke-width="0.8"/>
<circle cx="239.4" cy="253.41" r="1.7" fill="none" stroke="#777" stroke-width="0.8"/>
<circle cx="241.7" cy="252.02" r="1.7" fill="none" stroke="#777" stroke-width="0.8"/>
<circle cx="244" cy="248.56" r="1.7" fill="none" stroke="#777" stroke-width="0.8"/>
<circle cx="246.3" cy="246" r="1.7" fill="none" stroke="#777" stroke-width="0.8"/>
<circle cx="248.6" cy="244.45" r="1.7" fill="none" stroke="#777" stroke-width="0.8"/>
<circle cx="250.9" cy="241.32" r="1.7" fill="none" stroke="#777" stroke-width="0.8"/>
<circle cx="253.2" cy="235.89" r="1.7" fill="none" stroke="#777" stroke-width="0.8"/>
<circle cx="255.5" cy="230.04" r="1.7" fill="none" stroke="#777" stroke-width="0.8"/>
<circle cx="257.8" cy="227.05" r="1.7" fill="none" stroke="#777" stroke-width="0.8"/>
<circle cx="260.1" cy="221.38" r="1.7" fill="none" stroke="#777" stroke-width="0.8"/>
<circle cx="262.4" cy="217.2" r="1.7" fill="none" stroke="#777" stroke-width="0.8"/>
<circle cx="264.7" cy="211.36" r="1.7" fill="none" stroke="#777" stroke-width="0.8"/>
<circle cx="267" cy="207.72" r="1.7" fill="none" stroke="#777" stroke-width="0.8"/>
<circle cx="269.3" cy="203.5" r="1.7" fill="none" stroke="#777" stroke-width="0.8"/>
<circle cx="271.6" cy="203.67" r="1.7" fill="none" stroke="#777" stroke-width="0.8"/>
<circle cx="273.9" cy="202.04" r="1.7" fill="none" stroke="#777" stroke-width="0.8"/>
<circle cx="276.2" cy="204.71" r="1.7" fill="none" stroke="#777" stroke-width="0.8"/>
<circle cx="278.5" cy="203.19" r="1.7" fill="none" stroke="#777" stroke-width="0.8"/>
<circle cx="280.8" cy="195.68" r="1.7" fill="none" stroke="#777" stroke-width="0.8"/>
<circle cx="283.1" cy="187.96" r="1.7" fill="none" stroke="#777" stroke-width="0.8"/>
<circle cx="285.4" cy="183.04" r="1.7" fill="none" stroke="#777" stroke-width="0.8"/>
<circle cx="287.7" cy="178.8" r="1.7" fill="none" stroke="#777" stroke-width="0.8"/>
<circle cx="290" cy="176.79" r="1.7" fill="none" stroke="#777" stroke-width="0.8"/>
<circle cx="292.3" cy="174.4" r="1.7" fill="none" stroke="#777" stroke-width="0.8"/>
<circle cx="294.6" cy="172.19" r="1.7" fill="none" stroke="#777" stroke-width="0.8"/>
<circle cx="296.9" cy="171.25" r="1.7" fill="none" stroke="#777" stroke-width="0.8"/>
<circle cx="299.2" cy="173.03" r="1.7" fill="none" stroke="#777" stroke-width="0.8"/>
<circle cx="301.5" cy="174.83" r="1.7" fill="none" stroke="#777" stroke-width="0.8"/>
<circle cx="303.8" cy="178.18" r="1.7" fill="none" stroke="#777" stroke-width="0.8"/>
<circle cx="306.1" cy="184.9" r="1.7" fill="none" stroke="#777" stroke-width="0.8"/>
<circle cx="308.4" cy="195.09" r="1.7" fill="none" stroke="#777" stroke-width="0.8"/>
<circle cx="310.7" cy="207.3" r="1.7" fill="none" stroke="#777" stroke-width="0.8"/>
<circle cx="313" cy="220.26" r="1.7" fill="none" stroke="#777" stroke-width="0.8"/>
<circle cx="315.3" cy="229.97" r="1.7" fill="none" stroke="#777" stroke-width="0.8"/>
<circle cx="317.6" cy="240.53" r="1.7" fill="none" stroke="#777" stroke-width="0.8"/>
<circle cx="319.9" cy="247.46" r="1.7" fill="none" stroke="#777" stroke-width="0.8"/>
<circle cx="322.2" cy="251.72" r="1.7" fill="none" stroke="#777" stroke-width="0.8"/>
<circle cx="324.5" cy="253.72" r="1.7" fill="none" stroke="#777" stroke-width="0.8"/>
<circle cx="326.8" cy="255.5" r="1.7" fill="none" stroke="#777" stroke-width="0.8"/>
<circle cx="329.1" cy="256.46" r="1.7" fill="none" stroke="#777" stroke-width="0.8"/>
<circle cx="331.4" cy="256.45" r="1.7" fill="none" stroke="#777" stroke-width="0.8"/>
<circle cx="333.7" cy="256.92" r="1.7" fill="none" stroke="#777" stroke-width="0.8"/>
<circle cx="336" cy="256.49" r="1.7" fill="none" stroke="#777" stroke-width="0.8"/>
<circle cx="338.3" cy="256.48" r="1.7" fill="none" stroke="#777" stroke-width="0.8"/>
<circle cx="340.6" cy="255.65" r="1.7" fill="none" stroke="#777" stroke-width="0.8"/>
<circle cx="342.9" cy="256.84" r="1.7" fill="none" stroke="#777" stroke-width="0.8"/>
<circle cx="345.2" cy="256.58" r="1.7" fill="none" stroke="#777" stroke-width="0.8"/>
<circle cx="347.5" cy="256.07" r="1.7" fill="none" stroke="#777" stroke-width="0.8"/>
<circle cx="349.8" cy="257.13" r="1.7" fill="none" stroke="#777" stroke-width="0.8"/>
<circle cx="352.1" cy="257.16" r="1.7" fill="none" stroke="#777" stroke-width="0.8"/>
<circle cx="354.4" cy="256.52" r="1.7" fill="none" stroke="#777" stroke-width="0.8"/>
<path d="M196.4,257 C199.5,257 209.73,257.07 215,257 C220.27,256.93 224.67,256.93 228,256.6 C231.33,256.27 233,255.68 235,255 C237,254.32 238.27,253.67 240,252.5 C241.73,251.33 243.47,250.18 245.4,248 C247.33,245.82 249.78,242.53 251.6,239.4 C253.42,236.27 254.73,232.47 256.3,229.2 C257.87,225.93 259.68,222.67 261,219.8 C262.32,216.93 262.97,214.53 264.2,212 C265.43,209.47 266.85,206.23 268.4,204.6 C269.95,202.97 272.18,202.13 273.5,202.2 C274.82,202.27 275.47,204.95 276.3,205 C277.13,205.05 277.85,203.88 278.5,202.5 C279.15,201.12 279.35,199.25 280.2,196.7 C281.05,194.15 282.35,190.15 283.6,187.2 C284.85,184.25 286.33,181.03 287.7,179 C289.07,176.97 290.67,176 291.8,175 C292.93,174 293.6,173.57 294.5,173 C295.4,172.43 296.07,171.5 297.2,171.6 C298.33,171.7 299.87,171.62 301.3,173.6 C302.73,175.58 304.6,179.93 305.8,183.5 C307,187.07 307.77,191.28 308.5,195 C309.23,198.72 309.57,202.3 310.2,205.8 C310.83,209.3 311.68,212.93 312.3,216 C312.92,219.07 313.28,221.2 313.9,224.2 C314.52,227.2 315.28,230.92 316,234 C316.72,237.08 317.45,240.2 318.2,242.7 C318.95,245.2 319.6,247.2 320.5,249 C321.4,250.8 322.52,252.37 323.6,253.5 C324.68,254.63 325.87,255.28 327,255.8 C328.13,256.32 327.4,256.47 330.4,256.6 C333.4,256.73 340.73,256.6 345,256.6 C349.27,256.6 354.17,256.6 356,256.6" stroke="#ee1010" stroke-width="1.5" fill="none" />
<rect x="196.4" y="151.7" width="159.6" height="117.3" stroke="#000" stroke-width="1.3" fill="none"/>
<line x1="196.4" y1="269" x2="196.4" y2="270.8" stroke="#111" stroke-width="0.9"/>
<line x1="217.68" y1="269" x2="217.68" y2="270.8" stroke="#111" stroke-width="0.9"/>
<line x1="238.96" y1="269" x2="238.96" y2="270.8" stroke="#111" stroke-width="0.9"/>
<line x1="260.24" y1="269" x2="260.24" y2="270.8" stroke="#111" stroke-width="0.9"/>
<line x1="281.52" y1="269" x2="281.52" y2="270.8" stroke="#111" stroke-width="0.9"/>
<line x1="302.8" y1="269" x2="302.8" y2="270.8" stroke="#111" stroke-width="0.9"/>
<line x1="324.08" y1="269" x2="324.08" y2="270.8" stroke="#111" stroke-width="0.9"/>
<line x1="345.36" y1="269" x2="345.36" y2="270.8" stroke="#111" stroke-width="0.9"/>
<line x1="207.04" y1="269" x2="207.04" y2="270.4" stroke="#111" stroke-width="0.9"/>
<line x1="228.32" y1="269" x2="228.32" y2="270.4" stroke="#111" stroke-width="0.9"/>
<line x1="249.6" y1="269" x2="249.6" y2="270.4" stroke="#111" stroke-width="0.9"/>
<line x1="270.88" y1="269" x2="270.88" y2="270.4" stroke="#111" stroke-width="0.9"/>
<line x1="292.16" y1="269" x2="292.16" y2="270.4" stroke="#111" stroke-width="0.9"/>
<line x1="313.44" y1="269" x2="313.44" y2="270.4" stroke="#111" stroke-width="0.9"/>
<line x1="334.72" y1="269" x2="334.72" y2="270.4" stroke="#111" stroke-width="0.9"/>
<line x1="356" y1="269" x2="356" y2="270.4" stroke="#111" stroke-width="0.9"/>
<text transform="translate(196.4,278.4) scale(0.86,1)" font-size="7.6" font-weight="bold" text-anchor="middle" fill="#111" stroke="#111" stroke-width="0.35" >540</text>
<text transform="translate(217.68,278.4) scale(0.86,1)" font-size="7.6" font-weight="bold" text-anchor="middle" fill="#111" stroke="#111" stroke-width="0.35" >538</text>
<text transform="translate(238.96,278.4) scale(0.86,1)" font-size="7.6" font-weight="bold" text-anchor="middle" fill="#111" stroke="#111" stroke-width="0.35" >536</text>
<text transform="translate(260.24,278.4) scale(0.86,1)" font-size="7.6" font-weight="bold" text-anchor="middle" fill="#111" stroke="#111" stroke-width="0.35" >534</text>
<text transform="translate(281.52,278.4) scale(0.86,1)" font-size="7.6" font-weight="bold" text-anchor="middle" fill="#111" stroke="#111" stroke-width="0.35" >532</text>
<text transform="translate(302.8,278.4) scale(0.86,1)" font-size="7.6" font-weight="bold" text-anchor="middle" fill="#111" stroke="#111" stroke-width="0.35" >530</text>
<text transform="translate(324.08,278.4) scale(0.86,1)" font-size="7.6" font-weight="bold" text-anchor="middle" fill="#111" stroke="#111" stroke-width="0.35" >528</text>
<text transform="translate(345.36,278.4) scale(0.86,1)" font-size="7.6" font-weight="bold" text-anchor="middle" fill="#111" stroke="#111" stroke-width="0.35" >526</text>
<text x="243.7" y="287.13" font-size="7.97" font-weight="bold" text-anchor="start" fill="#111" stroke="#111" stroke-width="0.36" >Binding Energy (eV)</text>
<text transform="translate(190.9,232.6) rotate(-90) scale(0.9,1)" font-size="7.7" font-weight="bold" fill="#111" stroke="#111" stroke-width="0.3">Intensity (a.u.)</text>
<text x="340.5" y="163.57" font-size="10.18" font-weight="bold" text-anchor="start" fill="#111" stroke="#111" stroke-width="0.47" >(e)</text>
<text transform="translate(291.5,167.14) scale(0.87,1)" font-size="8.21" font-weight="bold" text-anchor="start" fill="#111" stroke="#111" stroke-width="0.38" >O 1s</text>
<text transform="translate(321.5,189.36) scale(0.87,1)" font-size="8.01" font-weight="bold" text-anchor="start" fill="#111" stroke="#111" stroke-width="0.37" >Ti-O</text>
<text transform="translate(242.7,187.67) scale(0.87,1)" font-size="8.17" font-weight="bold" text-anchor="start" fill="#111" stroke="#111" stroke-width="0.37" >C-Ti-(OH)x</text>
<text transform="translate(230.3,208.2) scale(0.87,1)" font-size="7.78" font-weight="bold" text-anchor="start" fill="#111" stroke="#111" stroke-width="0.36" >Ti-H</text>
<text transform="translate(245.2,210) scale(0.87,1)" font-size="4.6" font-weight="bold" text-anchor="start" fill="#111" stroke="#111" stroke-width="0.21" >2</text>
<text transform="translate(247.6,208.2) scale(0.87,1)" font-size="7.78" font-weight="bold" text-anchor="start" fill="#111" stroke="#111" stroke-width="0.36" >O</text>
<text transform="translate(228.1,229.8) scale(0.87,1)" font-size="7.4" font-weight="bold" text-anchor="start" fill="#111" stroke="#111" stroke-width="0.34" >C-OH</text>
<line x1="247" y1="231.5" x2="257" y2="245" stroke="#111" stroke-width="0.5"/>
<line x1="252.2" y1="211.2" x2="258.2" y2="220.5" stroke="#111" stroke-width="0.5"/>
<line x1="277" y1="190" x2="281.7" y2="196.7" stroke="#111" stroke-width="0.5"/>
<line x1="319.3" y1="187.2" x2="310.8" y2="194" stroke="#111" stroke-width="0.5"/>
<path d="M390.89,263.13 C392.52,263.1 396.59,263.02 400.63,262.94 C404.67,262.86 410.27,262.76 415.16,262.65 C420.05,262.53 425.14,262.4 429.98,262.26 C434.82,262.11 438.55,261.97 444.22,261.77 C449.89,261.58 457.85,261.66 463.98,261.09 C470.11,260.52 475.31,259.66 480.98,258.37 C486.65,257.07 493.14,255.29 497.98,253.31 C502.82,251.33 506.65,249.05 510.04,246.5 C513.43,243.96 516.07,241.45 518.32,238.04 C520.58,234.64 522.1,230.62 523.55,226.08 C525.01,221.54 526.19,216.19 527.04,210.81 C527.89,205.43 528.32,198.9 528.64,193.79 C528.95,188.69 528.88,182.45 528.93,180.18" stroke="#ff22aa" stroke-width="1.1" fill="none" />
<path d="M443.64,260.12 C444.76,259.55 447,257.57 450.4,256.71 C453.79,255.85 458.88,255.82 463.98,254.96 C469.08,254.1 475.31,252.97 480.98,251.56 C486.65,250.15 493.45,248.48 497.98,246.5 C502.51,244.52 504.76,243.1 508.15,239.69 C511.54,236.29 515.76,230.33 518.32,226.08 C520.89,221.83 522.1,219.03 523.55,214.22 C525.01,209.4 526.14,202.87 527.04,197.2 C527.94,191.52 528.62,183.01 528.93,180.18" stroke="#ff22aa" stroke-width="1.1" fill="none" />
<circle cx="390.89" cy="263.13" r="1.6" fill="#fff" stroke="#ff22aa" stroke-width="0.75"/>
<circle cx="390.89" cy="263.13" r="1.6" fill="#fff" stroke="#ff22aa" stroke-width="0.75"/>
<circle cx="399.39" cy="262.96" r="1.6" fill="#fff" stroke="#ff22aa" stroke-width="0.75"/>
<circle cx="407.89" cy="262.79" r="1.6" fill="#fff" stroke="#ff22aa" stroke-width="0.75"/>
<circle cx="416.39" cy="262.61" r="1.6" fill="#fff" stroke="#ff22aa" stroke-width="0.75"/>
<circle cx="424.89" cy="262.39" r="1.6" fill="#fff" stroke="#ff22aa" stroke-width="0.75"/>
<circle cx="433.38" cy="262.14" r="1.6" fill="#fff" stroke="#ff22aa" stroke-width="0.75"/>
<circle cx="441.88" cy="261.85" r="1.6" fill="#fff" stroke="#ff22aa" stroke-width="0.75"/>
<circle cx="450.37" cy="261.56" r="1.6" fill="#fff" stroke="#ff22aa" stroke-width="0.75"/>
<circle cx="458.87" cy="261.27" r="1.6" fill="#fff" stroke="#ff22aa" stroke-width="0.75"/>
<circle cx="467.32" cy="260.55" r="1.6" fill="#fff" stroke="#ff22aa" stroke-width="0.75"/>
<circle cx="475.72" cy="259.21" r="1.6" fill="#fff" stroke="#ff22aa" stroke-width="0.75"/>
<circle cx="484.02" cy="257.46" r="1.6" fill="#fff" stroke="#ff22aa" stroke-width="0.75"/>
<circle cx="492.16" cy="255.04" r="1.6" fill="#fff" stroke="#ff22aa" stroke-width="0.75"/>
<circle cx="500.1" cy="252.11" r="1.6" fill="#fff" stroke="#ff22aa" stroke-width="0.75"/>
<circle cx="507.5" cy="247.94" r="1.6" fill="#fff" stroke="#ff22aa" stroke-width="0.75"/>
<circle cx="513.95" cy="242.51" r="1.6" fill="#fff" stroke="#ff22aa" stroke-width="0.75"/>
<circle cx="519.22" cy="235.99" r="1.6" fill="#fff" stroke="#ff22aa" stroke-width="0.75"/>
<circle cx="522.63" cy="228.2" r="1.6" fill="#fff" stroke="#ff22aa" stroke-width="0.75"/>
<circle cx="524.93" cy="220.05" r="1.6" fill="#fff" stroke="#ff22aa" stroke-width="0.75"/>
<circle cx="526.82" cy="211.76" r="1.6" fill="#fff" stroke="#ff22aa" stroke-width="0.75"/>
<circle cx="527.74" cy="203.32" r="1.6" fill="#fff" stroke="#ff22aa" stroke-width="0.75"/>
<circle cx="528.54" cy="194.86" r="1.6" fill="#fff" stroke="#ff22aa" stroke-width="0.75"/>
<circle cx="528.8" cy="186.36" r="1.6" fill="#fff" stroke="#ff22aa" stroke-width="0.75"/>
<circle cx="447.21" cy="258.32" r="1.6" fill="#fff" stroke="#ff22aa" stroke-width="0.75"/>
<circle cx="455.29" cy="256.08" r="1.6" fill="#fff" stroke="#ff22aa" stroke-width="0.75"/>
<circle cx="463.72" cy="255" r="1.6" fill="#fff" stroke="#ff22aa" stroke-width="0.75"/>
<circle cx="472.06" cy="253.35" r="1.6" fill="#fff" stroke="#ff22aa" stroke-width="0.75"/>
<circle cx="480.39" cy="251.68" r="1.6" fill="#fff" stroke="#ff22aa" stroke-width="0.75"/>
<circle cx="488.55" cy="249.31" r="1.6" fill="#fff" stroke="#ff22aa" stroke-width="0.75"/>
<circle cx="496.7" cy="246.88" r="1.6" fill="#fff" stroke="#ff22aa" stroke-width="0.75"/>
<circle cx="503.93" cy="242.52" r="1.6" fill="#fff" stroke="#ff22aa" stroke-width="0.75"/>
<circle cx="510.2" cy="236.95" r="1.6" fill="#fff" stroke="#ff22aa" stroke-width="0.75"/>
<circle cx="515.29" cy="230.14" r="1.6" fill="#fff" stroke="#ff22aa" stroke-width="0.75"/>
<circle cx="519.71" cy="222.94" r="1.6" fill="#fff" stroke="#ff22aa" stroke-width="0.75"/>
<circle cx="523.14" cy="215.16" r="1.6" fill="#fff" stroke="#ff22aa" stroke-width="0.75"/>
<circle cx="525.05" cy="206.9" r="1.6" fill="#fff" stroke="#ff22aa" stroke-width="0.75"/>
<circle cx="526.76" cy="198.58" r="1.6" fill="#fff" stroke="#ff22aa" stroke-width="0.75"/>
<circle cx="527.82" cy="190.15" r="1.6" fill="#fff" stroke="#ff22aa" stroke-width="0.75"/>
<circle cx="528.76" cy="181.7" r="1.6" fill="#fff" stroke="#ff22aa" stroke-width="0.75"/>
<rect x="386" y="151.1" width="160" height="117.4" stroke="#000" stroke-width="1.3" fill="none"/>
<line x1="386.1" y1="268.5" x2="386.1" y2="270.5" stroke="#111" stroke-width="0.9"/>
<text transform="translate(386.1,279) scale(0.86,1)" font-size="7.6" font-weight="bold" text-anchor="middle" fill="#111" stroke="#111" stroke-width="0.35" >0.0</text>
<line x1="415.16" y1="268.5" x2="415.16" y2="270.5" stroke="#111" stroke-width="0.9"/>
<text transform="translate(415.16,279) scale(0.86,1)" font-size="7.6" font-weight="bold" text-anchor="middle" fill="#111" stroke="#111" stroke-width="0.35" >0.2</text>
<line x1="444.22" y1="268.5" x2="444.22" y2="270.5" stroke="#111" stroke-width="0.9"/>
<text transform="translate(444.22,279) scale(0.86,1)" font-size="7.6" font-weight="bold" text-anchor="middle" fill="#111" stroke="#111" stroke-width="0.35" >0.4</text>
<line x1="473.28" y1="268.5" x2="473.28" y2="270.5" stroke="#111" stroke-width="0.9"/>
<text transform="translate(473.28,279) scale(0.86,1)" font-size="7.6" font-weight="bold" text-anchor="middle" fill="#111" stroke="#111" stroke-width="0.35" >0.6</text>
<line x1="502.34" y1="268.5" x2="502.34" y2="270.5" stroke="#111" stroke-width="0.9"/>
<text transform="translate(502.34,279) scale(0.86,1)" font-size="7.6" font-weight="bold" text-anchor="middle" fill="#111" stroke="#111" stroke-width="0.35" >0.8</text>
<line x1="531.4" y1="268.5" x2="531.4" y2="270.5" stroke="#111" stroke-width="0.9"/>
<text transform="translate(531.4,279) scale(0.86,1)" font-size="7.6" font-weight="bold" text-anchor="middle" fill="#111" stroke="#111" stroke-width="0.35" >1.0</text>
<line x1="400.63" y1="268.5" x2="400.63" y2="270" stroke="#111" stroke-width="0.9"/>
<line x1="429.69" y1="268.5" x2="429.69" y2="270" stroke="#111" stroke-width="0.9"/>
<line x1="458.75" y1="268.5" x2="458.75" y2="270" stroke="#111" stroke-width="0.9"/>
<line x1="487.81" y1="268.5" x2="487.81" y2="270" stroke="#111" stroke-width="0.9"/>
<line x1="516.87" y1="268.5" x2="516.87" y2="270" stroke="#111" stroke-width="0.9"/>
<line x1="386" y1="267.8" x2="384.2" y2="267.8" stroke="#111" stroke-width="0.9"/>
<text transform="translate(383.6,270.4) scale(0.86,1)" font-size="7.6" font-weight="bold" text-anchor="end" fill="#111" stroke="#111" stroke-width="0.35" >0</text>
<line x1="386" y1="248.35" x2="384.2" y2="248.35" stroke="#111" stroke-width="0.9"/>
<text transform="translate(383.6,250.95) scale(0.86,1)" font-size="7.6" font-weight="bold" text-anchor="end" fill="#111" stroke="#111" stroke-width="0.35" >20</text>
<line x1="386" y1="228.9" x2="384.2" y2="228.9" stroke="#111" stroke-width="0.9"/>
<text transform="translate(383.6,231.5) scale(0.86,1)" font-size="7.6" font-weight="bold" text-anchor="end" fill="#111" stroke="#111" stroke-width="0.35" >40</text>
<line x1="386" y1="209.45" x2="384.2" y2="209.45" stroke="#111" stroke-width="0.9"/>
<text transform="translate(383.6,212.05) scale(0.86,1)" font-size="7.6" font-weight="bold" text-anchor="end" fill="#111" stroke="#111" stroke-width="0.35" >60</text>
<line x1="386" y1="190" x2="384.2" y2="190" stroke="#111" stroke-width="0.9"/>
<text transform="translate(383.6,192.6) scale(0.86,1)" font-size="7.6" font-weight="bold" text-anchor="end" fill="#111" stroke="#111" stroke-width="0.35" >80</text>
<line x1="386" y1="170.55" x2="384.2" y2="170.55" stroke="#111" stroke-width="0.9"/>
<text transform="translate(383.6,173.15) scale(0.86,1)" font-size="7.6" font-weight="bold" text-anchor="end" fill="#111" stroke="#111" stroke-width="0.35" >100</text>
<line x1="386" y1="151.1" x2="384.2" y2="151.1" stroke="#111" stroke-width="0.9"/>
<text transform="translate(383.6,153.7) scale(0.86,1)" font-size="7.6" font-weight="bold" text-anchor="end" fill="#111" stroke="#111" stroke-width="0.35" >120</text>
<line x1="386" y1="258.07" x2="387.5" y2="258.07" stroke="#111" stroke-width="0.8"/>
<line x1="386" y1="238.62" x2="387.5" y2="238.62" stroke="#111" stroke-width="0.8"/>
<line x1="386" y1="219.18" x2="387.5" y2="219.18" stroke="#111" stroke-width="0.8"/>
<line x1="386" y1="199.73" x2="387.5" y2="199.73" stroke="#111" stroke-width="0.8"/>
<line x1="386" y1="180.28" x2="387.5" y2="180.28" stroke="#111" stroke-width="0.8"/>
<line x1="386" y1="160.82" x2="387.5" y2="160.82" stroke="#111" stroke-width="0.8"/>
<text x="425.6" y="289.61" font-size="7.93" font-weight="bold" text-anchor="start" fill="#111" stroke="#111" stroke-width="0.36" >Relative Pressure (P/Po)</text>
<text transform="translate(369.6,270.5) rotate(-90)" font-size="8.2" font-weight="bold" fill="#111" stroke="#111" stroke-width="0.25">Adsorbed volume (cm<tspan font-size="4.8" dy="-3.4">3</tspan><tspan dy="3.4"> g</tspan><tspan font-size="4.8" dy="-3.4">-1</tspan><tspan dy="3.4">, STP)</tspan></text>
<text x="531.5" y="162.75" font-size="10.01" font-weight="bold" text-anchor="start" fill="#111" stroke="#111" stroke-width="0.46" >(f)</text>
<rect x="411.1" y="154.2" width="99.60" height="69.40" fill="#fff" stroke="#222" stroke-width="1.2"/>
<path d="M417.11,165.53 L417.3,202.2 L417.75,217.64 L418.72,220.73 L424.2,221.5 L485.48,221.5" stroke="#1f8a1f" stroke-width="1.7" fill="none" stroke-linejoin="round"/>
<path d="M420.65,220 h8.38 v3 h-8.38 Z" stroke="none" stroke-width="1" fill="#9a50ff" />
<circle cx="417.11" cy="165.53" r="1.5" fill="#fff" stroke="#a060ff" stroke-width="0.75"/>
<circle cx="413.56" cy="207.03" r="1.5" fill="#fff" stroke="#a060ff" stroke-width="0.75"/>
<circle cx="414.2" cy="209.92" r="1.5" fill="#fff" stroke="#a060ff" stroke-width="0.75"/>
<circle cx="414.85" cy="212.81" r="1.5" fill="#fff" stroke="#a060ff" stroke-width="0.75"/>
<circle cx="415.49" cy="215.71" r="1.5" fill="#fff" stroke="#a060ff" stroke-width="0.75"/>
<circle cx="416.14" cy="217.64" r="1.5" fill="#fff" stroke="#a060ff" stroke-width="0.75"/>
<circle cx="417.75" cy="219.96" r="1.5" fill="#fff" stroke="#a060ff" stroke-width="0.75"/>
<circle cx="419.36" cy="220.92" r="1.5" fill="#fff" stroke="#a060ff" stroke-width="0.75"/>
<circle cx="431.3" cy="221.5" r="1.5" fill="#fff" stroke="#a060ff" stroke-width="0.75"/>
<circle cx="434.52" cy="221.5" r="1.5" fill="#fff" stroke="#a060ff" stroke-width="0.75"/>
<circle cx="440.97" cy="221.5" r="1.5" fill="#fff" stroke="#a060ff" stroke-width="0.75"/>
<circle cx="449.03" cy="221.5" r="1.5" fill="#fff" stroke="#a060ff" stroke-width="0.75"/>
<circle cx="459.03" cy="221.5" r="1.5" fill="#fff" stroke="#a060ff" stroke-width="0.75"/>
<circle cx="484.83" cy="221.5" r="1.5" fill="#fff" stroke="#a060ff" stroke-width="0.75"/>
<line x1="411.3" y1="223.6" x2="411.3" y2="224.9" stroke="#333" stroke-width="0.6"/>
<text transform="translate(411.3,231.2) scale(0.86,1)" font-size="6" font-weight="bold" text-anchor="middle" fill="#111" stroke="#111" stroke-width="0.27" >0</text>
<line x1="427.43" y1="223.6" x2="427.43" y2="224.9" stroke="#333" stroke-width="0.6"/>
<text transform="translate(427.43,231.2) scale(0.86,1)" font-size="6" font-weight="bold" text-anchor="middle" fill="#111" stroke="#111" stroke-width="0.27" >50</text>
<line x1="443.55" y1="223.6" x2="443.55" y2="224.9" stroke="#333" stroke-width="0.6"/>
<text transform="translate(443.55,231.2) scale(0.86,1)" font-size="6" font-weight="bold" text-anchor="middle" fill="#111" stroke="#111" stroke-width="0.27" >100</text>
<line x1="459.68" y1="223.6" x2="459.68" y2="224.9" stroke="#333" stroke-width="0.6"/>
<text transform="translate(459.68,231.2) scale(0.86,1)" font-size="6" font-weight="bold" text-anchor="middle" fill="#111" stroke="#111" stroke-width="0.27" >150</text>
<line x1="475.8" y1="223.6" x2="475.8" y2="224.9" stroke="#333" stroke-width="0.6"/>
<text transform="translate(475.8,231.2) scale(0.86,1)" font-size="6" font-weight="bold" text-anchor="middle" fill="#111" stroke="#111" stroke-width="0.27" >200</text>
<line x1="491.93" y1="223.6" x2="491.93" y2="224.9" stroke="#333" stroke-width="0.6"/>
<text transform="translate(491.93,231.2) scale(0.86,1)" font-size="6" font-weight="bold" text-anchor="middle" fill="#111" stroke="#111" stroke-width="0.27" >250</text>
<line x1="508.05" y1="223.6" x2="508.05" y2="224.9" stroke="#333" stroke-width="0.6"/>
<text transform="translate(508.05,231.2) scale(0.86,1)" font-size="6" font-weight="bold" text-anchor="middle" fill="#111" stroke="#111" stroke-width="0.27" >300</text>
<line x1="411.1" y1="221.5" x2="409.6" y2="221.5" stroke="#333" stroke-width="0.7"/>
<text transform="translate(408.9,223.4) scale(0.86,1)" font-size="5.4" font-weight="bold" text-anchor="end" fill="#111" stroke="#111" stroke-width="0.25" >0.00</text>
<line x1="411.1" y1="202.2" x2="409.6" y2="202.2" stroke="#333" stroke-width="0.7"/>
<text transform="translate(408.9,204.1) scale(0.86,1)" font-size="5.4" font-weight="bold" text-anchor="end" fill="#111" stroke="#111" stroke-width="0.25" >0.01</text>
<line x1="411.1" y1="182.9" x2="409.6" y2="182.9" stroke="#333" stroke-width="0.7"/>
<text transform="translate(408.9,184.8) scale(0.86,1)" font-size="5.4" font-weight="bold" text-anchor="end" fill="#111" stroke="#111" stroke-width="0.25" >0.02</text>
<line x1="411.1" y1="163.6" x2="409.6" y2="163.6" stroke="#333" stroke-width="0.7"/>
<text transform="translate(408.9,165.5) scale(0.86,1)" font-size="5.4" font-weight="bold" text-anchor="end" fill="#111" stroke="#111" stroke-width="0.25" >0.03</text>
<line x1="411.1" y1="211.85" x2="410.1" y2="211.85" stroke="#333" stroke-width="0.6"/>
<line x1="411.1" y1="192.55" x2="410.1" y2="192.55" stroke="#333" stroke-width="0.6"/>
<line x1="411.1" y1="173.25" x2="410.1" y2="173.25" stroke="#333" stroke-width="0.6"/>
<text x="427.1" y="239.1" font-size="8.07" font-weight="bold" text-anchor="start" fill="#111" stroke="#111" stroke-width="0.37" >Pore diameter (nm)</text>
<text transform="translate(397.6,227.6) rotate(-90)" font-size="7.5" font-weight="bold" fill="#111" stroke="#111" stroke-width="0.22">Pore volume (cm<tspan font-size="4.4" dy="-3">3</tspan><tspan dy="3"> g</tspan><tspan font-size="4.4" dy="-3">-1</tspan><tspan dy="3">)</tspan></text>
</svg></body></html>
